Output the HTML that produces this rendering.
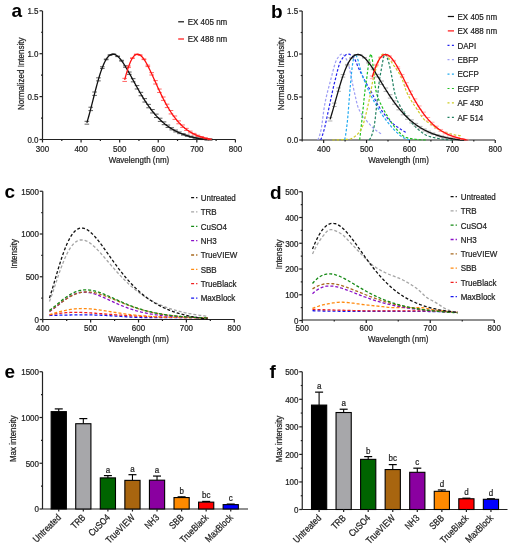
<!DOCTYPE html><html><head><meta charset="utf-8"><style>html,body{margin:0;padding:0;background:#fff;}svg{display:block;will-change:transform;}</style></head><body>
<svg width="513" height="550" viewBox="0 0 513 550" font-family='"Liberation Sans", sans-serif' fill="#222">
<style>.t{stroke:#222;stroke-width:0.2px;}</style>
<rect width="513" height="550" fill="#fff"/>
<line x1="42.5" y1="11" x2="42.5" y2="139.5" stroke="#222" stroke-width="1.2" />
<line x1="42.5" y1="139.5" x2="235.4" y2="139.5" stroke="#222" stroke-width="1.2" />
<line x1="39.5" y1="139.5" x2="42.5" y2="139.5" stroke="#222" stroke-width="1.2" />
<line x1="39.5" y1="96.6" x2="42.5" y2="96.6" stroke="#222" stroke-width="1.2" />
<line x1="39.5" y1="53.7" x2="42.5" y2="53.7" stroke="#222" stroke-width="1.2" />
<line x1="39.5" y1="10.8" x2="42.5" y2="10.8" stroke="#222" stroke-width="1.2" />
<line x1="41" y1="118.05" x2="42.5" y2="118.05" stroke="#222" stroke-width="1.2" />
<line x1="41" y1="75.15" x2="42.5" y2="75.15" stroke="#222" stroke-width="1.2" />
<line x1="41" y1="32.25" x2="42.5" y2="32.25" stroke="#222" stroke-width="1.2" />
<line x1="42.5" y1="139.5" x2="42.5" y2="142.5" stroke="#222" stroke-width="1.2" />
<line x1="81.08" y1="139.5" x2="81.08" y2="142.5" stroke="#222" stroke-width="1.2" />
<line x1="119.66" y1="139.5" x2="119.66" y2="142.5" stroke="#222" stroke-width="1.2" />
<line x1="158.24" y1="139.5" x2="158.24" y2="142.5" stroke="#222" stroke-width="1.2" />
<line x1="196.82" y1="139.5" x2="196.82" y2="142.5" stroke="#222" stroke-width="1.2" />
<line x1="235.4" y1="139.5" x2="235.4" y2="142.5" stroke="#222" stroke-width="1.2" />
<line x1="61.79" y1="139.5" x2="61.79" y2="141" stroke="#222" stroke-width="1.2" />
<line x1="100.37" y1="139.5" x2="100.37" y2="141" stroke="#222" stroke-width="1.2" />
<line x1="138.95" y1="139.5" x2="138.95" y2="141" stroke="#222" stroke-width="1.2" />
<line x1="177.53" y1="139.5" x2="177.53" y2="141" stroke="#222" stroke-width="1.2" />
<line x1="216.11" y1="139.5" x2="216.11" y2="141" stroke="#222" stroke-width="1.2" />
<text class="t" transform="translate(38.5,142.8) scale(1,1.2)" text-anchor="end" font-size="8" font-weight="normal" >0.0</text>
<text class="t" transform="translate(38.5,99.9) scale(1,1.2)" text-anchor="end" font-size="8" font-weight="normal" >0.5</text>
<text class="t" transform="translate(38.5,57) scale(1,1.2)" text-anchor="end" font-size="8" font-weight="normal" >1.0</text>
<text class="t" transform="translate(38.5,14.1) scale(1,1.2)" text-anchor="end" font-size="8" font-weight="normal" >1.5</text>
<text class="t" transform="translate(42.5,151.9) scale(1,1.2)" text-anchor="middle" font-size="8" font-weight="normal" >300</text>
<text class="t" transform="translate(81.08,151.9) scale(1,1.2)" text-anchor="middle" font-size="8" font-weight="normal" >400</text>
<text class="t" transform="translate(119.66,151.9) scale(1,1.2)" text-anchor="middle" font-size="8" font-weight="normal" >500</text>
<text class="t" transform="translate(158.24,151.9) scale(1,1.2)" text-anchor="middle" font-size="8" font-weight="normal" >600</text>
<text class="t" transform="translate(196.82,151.9) scale(1,1.2)" text-anchor="middle" font-size="8" font-weight="normal" >700</text>
<text class="t" transform="translate(235.4,151.9) scale(1,1.2)" text-anchor="middle" font-size="8" font-weight="normal" >800</text>
<text class="t" transform="translate(138.95,162.9) scale(1,1.2)" text-anchor="middle" font-size="8" font-weight="normal" >Wavelength (nm)</text>
<text class="t" x="0" y="0" text-anchor="middle" font-size="8" transform="translate(23.6,73.75) rotate(-90) scale(1,1.2)">Normalized Intensity</text>
<text transform="translate(11.5,16.9) scale(1,1.0)" text-anchor="start" font-size="19" font-weight="bold" fill="#000">a</text>
<path d="M84.57 121.32h4.6M84.57 124.16h4.6" stroke="#333" stroke-width="0.8" fill="none"/>
<path d="M88.42 107.21h4.6M88.42 110.61h4.6" stroke="#333" stroke-width="0.8" fill="none"/>
<path d="M92.28 92.01h4.6M92.28 95.41h4.6" stroke="#333" stroke-width="0.8" fill="none"/>
<path d="M96.14 77.83h4.6M96.14 80.88h4.6" stroke="#333" stroke-width="0.8" fill="none"/>
<path d="M100 66.77h4.6M100 68.43h4.6" stroke="#333" stroke-width="0.8" fill="none"/>
<path d="M103.86 59.08h4.6M103.86 59.76h4.6" stroke="#333" stroke-width="0.8" fill="none"/>
<path d="M107.72 54.82h4.6M107.72 55.32h4.6" stroke="#333" stroke-width="0.8" fill="none"/>
<path d="M111.57 54.01h4.6M111.57 54.51h4.6" stroke="#333" stroke-width="0.8" fill="none"/>
<path d="M115.43 56.12h4.6M115.43 56.62h4.6" stroke="#333" stroke-width="0.8" fill="none"/>
<path d="M119.29 60.28h4.6M119.29 61.11h4.6" stroke="#333" stroke-width="0.8" fill="none"/>
<path d="M123.15 65.75h4.6M123.15 67.27h4.6" stroke="#333" stroke-width="0.8" fill="none"/>
<path d="M127.01 72.04h4.6M127.01 74.36h4.6" stroke="#333" stroke-width="0.8" fill="none"/>
<path d="M130.86 78.67h4.6M130.86 81.83h4.6" stroke="#333" stroke-width="0.8" fill="none"/>
<path d="M134.72 85.58h4.6M134.72 88.98h4.6" stroke="#333" stroke-width="0.8" fill="none"/>
<path d="M138.58 92.34h4.6M138.58 95.74h4.6" stroke="#333" stroke-width="0.8" fill="none"/>
<path d="M142.44 98.64h4.6M142.44 102.04h4.6" stroke="#333" stroke-width="0.8" fill="none"/>
<path d="M146.29 104.39h4.6M146.29 107.79h4.6" stroke="#333" stroke-width="0.8" fill="none"/>
<path d="M150.15 109.56h4.6M150.15 112.96h4.6" stroke="#333" stroke-width="0.8" fill="none"/>
<path d="M154.01 114.12h4.6M154.01 117.52h4.6" stroke="#333" stroke-width="0.8" fill="none"/>
<path d="M157.87 118.22h4.6M157.87 121.41h4.6" stroke="#333" stroke-width="0.8" fill="none"/>
<path d="M161.73 121.9h4.6M161.73 124.67h4.6" stroke="#333" stroke-width="0.8" fill="none"/>
<path d="M165.58 125.06h4.6M165.58 127.48h4.6" stroke="#333" stroke-width="0.8" fill="none"/>
<path d="M169.44 127.76h4.6M169.44 129.88h4.6" stroke="#333" stroke-width="0.8" fill="none"/>
<path d="M173.3 130.06h4.6M173.3 131.92h4.6" stroke="#333" stroke-width="0.8" fill="none"/>
<path d="M177.16 132.01h4.6M177.16 133.65h4.6" stroke="#333" stroke-width="0.8" fill="none"/>
<path d="M181.02 133.65h4.6M181.02 135.11h4.6" stroke="#333" stroke-width="0.8" fill="none"/>
<path d="M184.87 135.04h4.6M184.87 136.34h4.6" stroke="#333" stroke-width="0.8" fill="none"/>
<path d="M188.73 136.2h4.6M188.73 137.38h4.6" stroke="#333" stroke-width="0.8" fill="none"/>
<path d="M192.59 137.18h4.6M192.59 138.24h4.6" stroke="#333" stroke-width="0.8" fill="none"/>
<path d="M196.45 138h4.6M196.45 138.97h4.6" stroke="#333" stroke-width="0.8" fill="none"/>
<path d="M200.31 138.68h4.6M200.31 139.57h4.6" stroke="#333" stroke-width="0.8" fill="none"/>
<path d="M204.16 139.07h4.6M204.16 139.93h4.6" stroke="#333" stroke-width="0.8" fill="none"/>
<path d="M208.02 139.07h4.6M208.02 139.93h4.6" stroke="#333" stroke-width="0.8" fill="none"/>
<path d="M86.87 122.74L87.64 120.18L88.41 117.51L89.18 114.74L89.95 111.86L90.72 108.91L91.5 105.91L92.27 102.86L93.04 99.81L93.81 96.74L94.58 93.71L95.35 90.7L96.13 87.74L96.9 84.87L97.67 82.06L98.44 79.35L99.21 76.75L99.98 74.26L100.76 71.91L101.53 69.68L102.3 67.6L103.07 65.66L103.84 63.87L104.61 62.24L105.39 60.75L106.16 59.42L106.93 58.25L107.7 57.22L108.47 56.37L109.24 55.63L110.02 55.07L110.79 54.63L111.56 54.31L112.33 54.26L113.1 54.26L113.87 54.26L114.64 54.42L115.42 54.79L116.19 55.21L116.96 55.75L117.73 56.37L118.5 57.08L119.27 57.88L120.05 58.74L120.82 59.69L121.59 60.69L122.36 61.76L123.13 62.88L123.9 64.04L124.68 65.26L125.45 66.51L126.22 67.79L126.99 69.11L127.76 70.45L128.53 71.82L129.31 73.2L130.08 74.59L130.85 76L131.62 77.41L132.39 78.83L133.16 80.25L133.93 81.67L134.71 83.08L135.48 84.49L136.25 85.89L137.02 87.28L137.79 88.66L138.56 90.03L139.34 91.38L140.11 92.72L140.88 94.04L141.65 95.34L142.42 96.62L143.19 97.88L143.97 99.12L144.74 100.34L145.51 101.54L146.28 102.71L147.05 103.86L147.82 104.99L148.59 106.09L149.37 107.17L150.14 108.23L150.91 109.26L151.68 110.27L152.45 111.26L153.22 112.22L154 113.15L154.77 114.07L155.54 114.96L156.31 115.82L157.08 116.67L157.85 117.49L158.63 118.29L159.4 119.06L160.17 119.82L160.94 120.55L161.71 121.27L162.48 121.96L163.26 122.63L164.03 123.28L164.8 123.92L165.57 124.53L166.34 125.13L167.11 125.71L167.88 126.27L168.66 126.81L169.43 127.34L170.2 127.85L170.97 128.34L171.74 128.82L172.51 129.28L173.29 129.73L174.06 130.16L174.83 130.58L175.6 130.99L176.37 131.38L177.14 131.76L177.92 132.13L178.69 132.49L179.46 132.83L180.23 133.16L181 133.48L181.77 133.79L182.55 134.09L183.32 134.38L184.09 134.66L184.86 134.93L185.63 135.2L186.4 135.45L187.17 135.69L187.95 135.93L188.72 136.15L189.49 136.37L190.26 136.59L191.03 136.79L191.8 136.99L192.58 137.18L193.35 137.36L194.12 137.54L194.89 137.71L195.66 137.88L196.43 138.04L197.21 138.19L197.98 138.34L198.75 138.48L199.52 138.62L200.29 138.75L201.06 138.88L201.84 139.01L202.61 139.13L203.38 139.25L204.15 139.37L204.92 139.43L205.69 139.48L206.47 139.5L207.24 139.5L208.01 139.5L208.78 139.5L209.55 139.5L210.32 139.5L211.09 139.5L211.87 139.5L212.25 139.5" stroke="#111" stroke-width="1.3" fill="none" stroke-linejoin="round"/>
<path d="M122.38 78.33h4.6M122.38 81.44h4.6" stroke="#ff4040" stroke-width="0.8" fill="none"/>
<path d="M126.23 66.02h4.6M126.23 67.57h4.6" stroke="#ff4040" stroke-width="0.8" fill="none"/>
<path d="M130.09 57.91h4.6M130.09 58.44h4.6" stroke="#ff4040" stroke-width="0.8" fill="none"/>
<path d="M133.95 54.18h4.6M133.95 54.68h4.6" stroke="#ff4040" stroke-width="0.8" fill="none"/>
<path d="M137.81 54.85h4.6M137.81 55.35h4.6" stroke="#ff4040" stroke-width="0.8" fill="none"/>
<path d="M141.67 58.94h4.6M141.67 59.6h4.6" stroke="#ff4040" stroke-width="0.8" fill="none"/>
<path d="M145.52 65.13h4.6M145.52 66.57h4.6" stroke="#ff4040" stroke-width="0.8" fill="none"/>
<path d="M149.38 72.62h4.6M149.38 75.01h4.6" stroke="#ff4040" stroke-width="0.8" fill="none"/>
<path d="M153.24 80.63h4.6M153.24 84.03h4.6" stroke="#ff4040" stroke-width="0.8" fill="none"/>
<path d="M157.1 89.06h4.6M157.1 92.46h4.6" stroke="#ff4040" stroke-width="0.8" fill="none"/>
<path d="M160.96 96.99h4.6M160.96 100.39h4.6" stroke="#ff4040" stroke-width="0.8" fill="none"/>
<path d="M164.81 104.19h4.6M164.81 107.59h4.6" stroke="#ff4040" stroke-width="0.8" fill="none"/>
<path d="M168.67 110.53h4.6M168.67 113.93h4.6" stroke="#ff4040" stroke-width="0.8" fill="none"/>
<path d="M172.53 116h4.6M172.53 119.4h4.6" stroke="#ff4040" stroke-width="0.8" fill="none"/>
<path d="M176.39 120.88h4.6M176.39 123.77h4.6" stroke="#ff4040" stroke-width="0.8" fill="none"/>
<path d="M180.25 124.98h4.6M180.25 127.41h4.6" stroke="#ff4040" stroke-width="0.8" fill="none"/>
<path d="M184.1 128.36h4.6M184.1 130.42h4.6" stroke="#ff4040" stroke-width="0.8" fill="none"/>
<path d="M187.96 131.13h4.6M187.96 132.87h4.6" stroke="#ff4040" stroke-width="0.8" fill="none"/>
<path d="M191.82 133.38h4.6M191.82 134.87h4.6" stroke="#ff4040" stroke-width="0.8" fill="none"/>
<path d="M195.68 135.19h4.6M195.68 136.47h4.6" stroke="#ff4040" stroke-width="0.8" fill="none"/>
<path d="M199.54 136.64h4.6M199.54 137.76h4.6" stroke="#ff4040" stroke-width="0.8" fill="none"/>
<path d="M203.39 137.8h4.6M203.39 138.79h4.6" stroke="#ff4040" stroke-width="0.8" fill="none"/>
<path d="M207.25 138.72h4.6M207.25 139.61h4.6" stroke="#ff4040" stroke-width="0.8" fill="none"/>
<path d="M124.68 79.89L125.45 76.95L126.22 74.17L126.99 71.56L127.76 69.08L128.53 66.8L129.31 64.69L130.08 62.76L130.85 61.05L131.62 59.5L132.39 58.18L133.16 57.04L133.93 56.08L134.71 55.37L135.48 54.76L136.25 54.43L137.02 54.33L137.79 54.27L138.56 54.31L139.34 54.65L140.11 55.1L140.88 55.68L141.65 56.42L142.42 57.25L143.19 58.21L143.97 59.27L144.74 60.43L145.51 61.68L146.28 63L147.05 64.4L147.82 65.85L148.59 67.36L149.37 68.93L150.14 70.52L150.91 72.16L151.68 73.82L152.45 75.5L153.22 77.2L154 78.9L154.77 80.62L155.54 82.33L156.31 84.04L157.08 85.74L157.85 87.43L158.63 89.1L159.4 90.76L160.17 92.4L160.94 94.01L161.71 95.6L162.48 97.16L163.26 98.69L164.03 100.2L164.8 101.67L165.57 103.11L166.34 104.52L167.11 105.89L167.88 107.23L168.66 108.53L169.43 109.8L170.2 111.03L170.97 112.23L171.74 113.39L172.51 114.52L173.29 115.61L174.06 116.67L174.83 117.7L175.6 118.69L176.37 119.65L177.14 120.57L177.92 121.47L178.69 122.33L179.46 123.16L180.23 123.96L181 124.73L181.77 125.48L182.55 126.2L183.32 126.89L184.09 127.55L184.86 128.19L185.63 128.8L186.4 129.39L187.17 129.96L187.95 130.5L188.72 131.02L189.49 131.52L190.26 132L191.03 132.46L191.8 132.9L192.58 133.33L193.35 133.73L194.12 134.12L194.89 134.49L195.66 134.85L196.43 135.19L197.21 135.52L197.98 135.83L198.75 136.13L199.52 136.41L200.29 136.69L201.06 136.95L201.84 137.2L202.61 137.44L203.38 137.67L204.15 137.88L204.92 138.09L205.69 138.29L206.47 138.48L207.24 138.67L208.01 138.84L208.78 139L209.55 139.16L210.32 139.31" stroke="#ff1010" stroke-width="1.3" fill="none" stroke-linejoin="round"/>
<line x1="178.2" y1="21.8" x2="184" y2="21.8" stroke="#111" stroke-width="1.2" />
<text class="t" transform="translate(187.7,25.2) scale(1,1.2)" text-anchor="start" font-size="8" font-weight="normal" >EX 405 nm</text>
<line x1="178.2" y1="39" x2="184" y2="39" stroke="#ff1010" stroke-width="1.2" />
<text class="t" transform="translate(187.7,42.4) scale(1,1.2)" text-anchor="start" font-size="8" font-weight="normal" >EX 488 nm</text>
<line x1="302.2" y1="11" x2="302.2" y2="140" stroke="#222" stroke-width="1.2" />
<line x1="302.2" y1="140" x2="495" y2="140" stroke="#222" stroke-width="1.2" />
<line x1="299.2" y1="140" x2="302.2" y2="140" stroke="#222" stroke-width="1.2" />
<line x1="299.2" y1="97" x2="302.2" y2="97" stroke="#222" stroke-width="1.2" />
<line x1="299.2" y1="54" x2="302.2" y2="54" stroke="#222" stroke-width="1.2" />
<line x1="299.2" y1="11" x2="302.2" y2="11" stroke="#222" stroke-width="1.2" />
<line x1="300.7" y1="118.5" x2="302.2" y2="118.5" stroke="#222" stroke-width="1.2" />
<line x1="300.7" y1="75.5" x2="302.2" y2="75.5" stroke="#222" stroke-width="1.2" />
<line x1="300.7" y1="32.5" x2="302.2" y2="32.5" stroke="#222" stroke-width="1.2" />
<line x1="323.65" y1="140" x2="323.65" y2="143" stroke="#222" stroke-width="1.2" />
<line x1="366.55" y1="140" x2="366.55" y2="143" stroke="#222" stroke-width="1.2" />
<line x1="409.45" y1="140" x2="409.45" y2="143" stroke="#222" stroke-width="1.2" />
<line x1="452.35" y1="140" x2="452.35" y2="143" stroke="#222" stroke-width="1.2" />
<line x1="495.25" y1="140" x2="495.25" y2="143" stroke="#222" stroke-width="1.2" />
<line x1="302.2" y1="140" x2="302.2" y2="141.5" stroke="#222" stroke-width="1.2" />
<line x1="345.1" y1="140" x2="345.1" y2="141.5" stroke="#222" stroke-width="1.2" />
<line x1="388" y1="140" x2="388" y2="141.5" stroke="#222" stroke-width="1.2" />
<line x1="430.9" y1="140" x2="430.9" y2="141.5" stroke="#222" stroke-width="1.2" />
<line x1="473.8" y1="140" x2="473.8" y2="141.5" stroke="#222" stroke-width="1.2" />
<text class="t" transform="translate(298.2,143.3) scale(1,1.2)" text-anchor="end" font-size="8" font-weight="normal" >0.0</text>
<text class="t" transform="translate(298.2,100.3) scale(1,1.2)" text-anchor="end" font-size="8" font-weight="normal" >0.5</text>
<text class="t" transform="translate(298.2,57.3) scale(1,1.2)" text-anchor="end" font-size="8" font-weight="normal" >1.0</text>
<text class="t" transform="translate(298.2,14.3) scale(1,1.2)" text-anchor="end" font-size="8" font-weight="normal" >1.5</text>
<text class="t" transform="translate(323.65,152.4) scale(1,1.2)" text-anchor="middle" font-size="8" font-weight="normal" >400</text>
<text class="t" transform="translate(366.55,152.4) scale(1,1.2)" text-anchor="middle" font-size="8" font-weight="normal" >500</text>
<text class="t" transform="translate(409.45,152.4) scale(1,1.2)" text-anchor="middle" font-size="8" font-weight="normal" >600</text>
<text class="t" transform="translate(452.35,152.4) scale(1,1.2)" text-anchor="middle" font-size="8" font-weight="normal" >700</text>
<text class="t" transform="translate(495.25,152.4) scale(1,1.2)" text-anchor="middle" font-size="8" font-weight="normal" >800</text>
<text class="t" transform="translate(398.6,163.4) scale(1,1.2)" text-anchor="middle" font-size="8" font-weight="normal" >Wavelength (nm)</text>
<text class="t" x="0" y="0" text-anchor="middle" font-size="8" transform="translate(283.5,74) rotate(-90) scale(1,1.2)">Normalized Intensity</text>
<text transform="translate(271,17.9) scale(1,1.0)" text-anchor="start" font-size="19" font-weight="bold" fill="#000">b</text>
<path d="M317.64 140L318.5 138.58L319.36 136.22L320.22 133.16L321.08 129.68L321.93 124.75L322.79 118.13L323.65 111.26L324.51 105.6L325.37 101.24L326.22 97.28L327.08 93.63L327.94 90.22L328.8 86.98L329.66 83.82L330.51 80.66L331.37 77.38L332.23 73.97L333.09 70.59L333.95 67.36L334.8 64.41L335.66 61.88L336.52 59.9L337.38 58.51L338.24 57.26L339.09 56.12L339.95 55.15L340.81 54.44L341.67 54.05L342.53 54.07L343.38 54.59L344.24 55.55L345.1 56.83L345.96 58.36L346.82 60.02L347.67 61.87L348.53 64.54L349.39 67.96L350.25 71.94L351.11 76.25L351.96 80.69L352.82 85.05L353.68 89.12L354.54 92.82L355.4 96.69L356.25 100.55L357.11 104.11L357.97 107.04L358.83 109.16L359.69 110.91L360.54 112.45L361.4 113.81L362.26 115.05L363.12 116.21L363.98 117.35L364.83 118.5L365.69 119.65L366.55 120.73L367.41 121.76L368.27 122.75L369.12 123.71L369.98 124.65L370.84 125.59L371.7 126.49L372.56 127.36L373.41 128.19L374.27 128.97L375.13 129.68L375.99 130.35L376.85 130.99L377.7 131.61L378.56 132.2L379.42 132.76L380.28 133.28L381.14 133.77L381.99 134.21L382.42 134.41" stroke="#9d9df5" stroke-width="1.2" fill="none" stroke-dasharray="2.6 1.8"/>
<path d="M320.65 140L321.5 137.89L322.36 135.5L323.22 132.83L324.08 129.87L324.94 126.45L325.79 122.67L326.65 118.68L327.51 114.6L328.37 110.56L329.23 106.66L330.08 102.65L330.94 98.57L331.8 94.5L332.66 90.54L333.52 86.75L334.38 83.24L335.23 79.81L336.09 76.3L336.95 72.81L337.81 69.48L338.66 66.41L339.52 63.74L340.38 61.57L341.24 60.02L342.1 58.85L342.95 57.73L343.81 56.71L344.67 55.81L345.53 55.06L346.39 54.49L347.25 54.13L348.1 54L348.96 54.11L349.82 54.42L350.68 54.9L351.53 55.51L352.39 56.23L353.25 57.02L354.11 57.95L354.97 59.45L355.82 61.41L356.68 63.59L357.54 65.78L358.4 67.76L359.26 69.55L360.12 71.32L360.97 73.07L361.83 74.79L362.69 76.49L363.55 78.16L364.4 79.8L365.26 81.41L366.12 82.98L366.98 84.53L367.84 86.05L368.69 87.54L369.55 88.97L370.41 90.37L371.27 91.84L372.13 93.46L372.99 95.21L373.84 97.02L374.7 98.85L375.56 100.64L376.42 102.33L377.27 103.88L378.13 105.3L378.99 106.66L379.85 107.97L380.71 109.22L381.56 110.44L382.42 111.62L383.28 112.77L384.14 113.91L385 115.03L385.86 116.14L386.71 117.23L387.57 118.27L388.43 119.27L389.29 120.21L390.14 121.08L391 121.89L391.86 122.67L392.72 123.42L393.58 124.14L394.44 124.82L395.29 125.49L396.15 126.13L397.01 126.76L397.87 127.36L398.72 127.96L399.58 128.54L400.44 129.11L401.3 129.67L402.16 130.21L403.01 130.74L403.87 131.25L404.73 131.74L405.59 132.22L406.45 132.68L407.31 133.12" stroke="#2222ee" stroke-width="1.2" fill="none" stroke-dasharray="2.6 1.8"/>
<path d="M344.67 140L345.53 135.56L346.39 129.71L347.25 122.8L348.1 113.74L348.96 102.62L349.82 91.54L350.68 82.1L351.53 73.05L352.39 65.41L353.25 60.18L354.11 55.89L354.97 54L355.82 54.74L356.68 56.56L357.54 58.87L358.4 61.3L359.26 64.53L360.12 68.07L360.97 71.2L361.83 73.79L362.69 76.2L363.55 78.48L364.4 80.65L365.26 82.74L366.12 84.8L366.98 86.84L367.84 88.82L368.69 90.75L369.55 92.61L370.41 94.41L371.27 96.13L372.13 97.8L372.99 99.41L373.84 100.98L374.7 102.5L375.56 104L376.42 105.47L377.27 106.93L378.13 108.36L378.99 109.76L379.85 111.14L380.71 112.48L381.56 113.79L382.42 115.06L383.28 116.3L384.14 117.51L385 118.69L385.86 119.84L386.71 120.96L387.57 122.06L388.43 123.13L389.29 124.18L390.14 125.22L391 126.26L391.86 127.27L392.72 128.26L393.58 129.22L394.44 130.15L395.29 131.03L396.15 131.86L397.01 132.65L397.87 133.43L398.72 134.2L399.58 134.95L400.44 135.66L401.3 136.32L402.16 136.91L403.01 137.43L403.87 137.85L404.73 138.21L405.59 138.55L406.45 138.86L407.31 139.13L408.16 139.35L409.02 139.51L409.45 139.57" stroke="#22aaf0" stroke-width="1.2" fill="none" stroke-dasharray="2.6 1.8"/>
<path d="M359.69 140L360.54 132.45L361.4 124.71L362.26 116.78L363.12 108.32L363.98 99.67L364.83 91.84L365.69 85.37L366.55 79.44L367.41 72.95L368.27 65.71L369.12 60.02L369.98 55.99L370.84 54L371.7 56.16L372.56 60.88L373.41 69.92L374.27 78.53L375.13 85.79L375.99 90.98L376.85 94.26L377.7 96.96L378.56 99.22L379.42 101.17L380.28 102.95L381.14 104.7L381.99 106.5L382.85 108.2L383.71 109.8L384.57 111.32L385.43 112.77L386.28 114.2L387.14 115.62L388 117.04L388.86 118.45L389.72 119.84L390.57 121.2L391.43 122.52L392.29 123.81L393.15 125.04L394.01 126.21L394.86 127.31L395.72 128.34L396.58 129.29L397.44 130.24L398.3 131.19L399.15 132.13L400.01 133.03L400.87 133.89L401.73 134.7L402.59 135.43L403.44 136.09L404.3 136.65L405.16 137.09L406.02 137.42L406.88 137.67L407.73 137.91L408.59 138.12L409.45 138.32L410.31 138.51L411.17 138.68L412.02 138.84L412.88 138.98L413.74 139.11L414.6 139.22L415.46 139.33L416.31 139.42L417.17 139.5L418.03 139.57L418.89 139.63L419.75 139.7L420.6 139.76L421.46 139.82L422.32 139.87L423.18 139.91L424.04 139.95L424.89 139.98L425.75 139.99L426.61 140" stroke="#22c022" stroke-width="1.2" fill="none" stroke-dasharray="2.6 1.8"/>
<path d="M332.23 140L333.09 140L333.95 139.99L334.8 139.98L335.66 139.97L336.52 139.95L337.38 139.93L338.24 139.9L339.09 139.87L339.95 139.83L340.81 139.79L341.67 139.75L342.53 139.7L343.38 139.65L344.24 139.59L345.1 139.53L345.96 139.46L346.82 139.39L347.67 139.31L348.53 139.23L349.39 139.14L350.25 138.98L351.11 138.7L351.96 138.3L352.82 137.82L353.68 137.27L354.54 136.67L355.4 136.03L356.25 135.36L357.11 134.6L357.97 133.71L358.83 132.7L359.69 131.54L360.54 130.23L361.4 128.75L362.26 127.1L363.12 124.8L363.98 121.76L364.83 118.5L365.69 115.21L366.55 111.72L367.41 108.06L368.27 104.24L369.12 100.26L369.98 96.14L370.84 91.52L371.7 86.49L372.56 81.8L373.41 78.02L374.27 74.78L375.13 71.85L375.99 69.1L376.85 66.37L377.7 63.43L378.56 60.55L379.42 58.05L380.28 56.25L381.14 55.34L381.99 54.66L382.85 54.18L383.71 54L384.57 54.22L385.43 54.8L386.28 55.61L387.14 56.53L388 57.44L388.86 58.39L389.72 59.48L390.57 60.68L391.43 61.95L392.29 63.25L393.15 64.55L394.01 65.8L394.86 67.02L395.72 68.23L396.58 69.44L397.44 70.68L398.3 71.97L399.15 73.34L400.01 74.8L400.87 76.38L401.73 78.14L402.59 80.29L403.44 82.74L404.3 85.34L405.16 87.95L406.02 90.42L406.88 92.61L407.73 94.43L408.59 96.1L409.45 97.66L410.31 99.14L411.17 100.55L412.02 101.9L412.88 103.2L413.74 104.47L414.6 105.72L415.46 106.96L416.31 108.21L417.17 109.47L418.03 110.77L418.89 112.12L419.75 113.46L420.6 114.79L421.46 116.08L422.32 117.29L423.18 118.4L424.04 119.39L424.89 120.22L425.75 120.9L426.61 121.48L427.47 122.01L428.33 122.53L429.18 123.08L430.04 123.65L430.9 124.24L431.76 124.83L432.62 125.44L433.47 126.04L434.33 126.65L435.19 127.25L436.05 127.83L436.91 128.41L437.76 128.96L438.62 129.49L439.48 129.99L440.34 130.46L441.2 130.89L442.05 131.28L442.91 131.62L443.77 131.92L444.63 132.18L445.49 132.45L446.34 132.71L447.2 132.97L448.06 133.22L448.92 133.47L449.78 133.71L450.63 133.94L451.49 134.16L452.35 134.38L453.21 134.58L454.07 134.76L454.92 134.94L455.78 135.1L456.64 135.24L457.5 135.36L458.36 135.47L459.21 135.56L460.07 135.63L460.93 135.67L461.79 135.7L462.22 135.7" stroke="#cccc22" stroke-width="1.2" fill="none" stroke-dasharray="2.6 1.8"/>
<path d="M369.12 140L369.98 138.94L370.84 137.42L371.7 135.47L372.56 132.96L373.41 129.8L374.27 125.69L375.13 119.48L375.99 111.82L376.85 103.61L377.7 95.24L378.56 86.68L379.42 80.39L380.28 75.02L381.14 70.34L381.99 65.61L382.85 60.8L383.71 56.76L384.57 54.34L385.43 54.19L386.28 55.52L387.14 57.64L388 60.02L388.86 62.84L389.72 66.43L390.57 70.47L391.43 74.64L392.29 79.37L393.15 84.72L394.01 89.75L394.86 93.56L395.72 96.25L396.58 98.59L397.44 100.64L398.3 102.48L399.15 104.16L400.01 105.75L400.87 107.32L401.73 108.85L402.59 110.28L403.44 111.64L404.3 112.93L405.16 114.16L406.02 115.34L406.88 116.49L407.73 117.63L408.59 118.75L409.45 119.86L410.31 120.95L411.17 122.01L412.02 123.05L412.88 124.06L413.74 125.03L414.6 125.97L415.46 126.88L416.31 127.74L417.17 128.55L418.03 129.32L418.89 130.04L419.75 130.74L420.6 131.44L421.46 132.11L422.32 132.76L423.18 133.37L424.04 133.94L424.89 134.47L425.75 134.94L426.61 135.35L427.47 135.7L428.33 136L429.18 136.29L430.04 136.56L430.9 136.82L431.76 137.06L432.62 137.28L433.47 137.49L434.33 137.69L435.19 137.88L436.05 138.05L436.91 138.22L437.76 138.37L438.62 138.51L439.48 138.65L440.34 138.77L441.2 138.89L442.05 139.01L442.91 139.13L443.77 139.24L444.63 139.35L445.49 139.45L446.34 139.55L447.2 139.64L448.06 139.72L448.92 139.8L449.78 139.86L450.63 139.92L451.49 139.96L452.35 140" stroke="#1f8060" stroke-width="1.2" fill="none" stroke-dasharray="2.6 1.8"/>
<path d="M327.78 117.67h4.6M327.78 120.97h4.6" stroke="#999" stroke-width="0.8" fill="none"/>
<path d="M332.07 103.11h4.6M332.07 106.51h4.6" stroke="#999" stroke-width="0.8" fill="none"/>
<path d="M336.36 87.9h4.6M336.36 91.3h4.6" stroke="#999" stroke-width="0.8" fill="none"/>
<path d="M340.65 74.55h4.6M340.65 77.14h4.6" stroke="#999" stroke-width="0.8" fill="none"/>
<path d="M344.94 64.42h4.6M344.94 65.73h4.6" stroke="#999" stroke-width="0.8" fill="none"/>
<path d="M349.23 57.78h4.6M349.23 58.28h4.6" stroke="#999" stroke-width="0.8" fill="none"/>
<path d="M353.52 54.53h4.6M353.52 55.03h4.6" stroke="#999" stroke-width="0.8" fill="none"/>
<path d="M357.81 54.67h4.6M357.81 55.17h4.6" stroke="#999" stroke-width="0.8" fill="none"/>
<path d="M362.1 57.53h4.6M362.1 58.03h4.6" stroke="#999" stroke-width="0.8" fill="none"/>
<path d="M366.39 62.12h4.6M366.39 63.14h4.6" stroke="#999" stroke-width="0.8" fill="none"/>
<path d="M370.69 67.91h4.6M370.69 69.66h4.6" stroke="#999" stroke-width="0.8" fill="none"/>
<path d="M374.97 74.36h4.6M374.97 76.93h4.6" stroke="#999" stroke-width="0.8" fill="none"/>
<path d="M379.26 81.04h4.6M379.26 84.44h4.6" stroke="#999" stroke-width="0.8" fill="none"/>
<path d="M383.56 88.03h4.6M383.56 91.43h4.6" stroke="#999" stroke-width="0.8" fill="none"/>
<path d="M387.84 94.68h4.6M387.84 98.08h4.6" stroke="#999" stroke-width="0.8" fill="none"/>
<path d="M392.13 100.84h4.6M392.13 104.24h4.6" stroke="#999" stroke-width="0.8" fill="none"/>
<path d="M396.42 106.43h4.6M396.42 109.83h4.6" stroke="#999" stroke-width="0.8" fill="none"/>
<path d="M400.71 111.42h4.6M400.71 114.82h4.6" stroke="#999" stroke-width="0.8" fill="none"/>
<path d="M405 115.83h4.6M405 119.23h4.6" stroke="#999" stroke-width="0.8" fill="none"/>
<path d="M409.29 119.84h4.6M409.29 122.9h4.6" stroke="#999" stroke-width="0.8" fill="none"/>
<path d="M413.58 123.36h4.6M413.58 126.02h4.6" stroke="#999" stroke-width="0.8" fill="none"/>
<path d="M417.87 126.38h4.6M417.87 128.71h4.6" stroke="#999" stroke-width="0.8" fill="none"/>
<path d="M422.16 128.97h4.6M422.16 131h4.6" stroke="#999" stroke-width="0.8" fill="none"/>
<path d="M426.45 131.16h4.6M426.45 132.95h4.6" stroke="#999" stroke-width="0.8" fill="none"/>
<path d="M430.74 133.02h4.6M430.74 134.6h4.6" stroke="#999" stroke-width="0.8" fill="none"/>
<path d="M435.03 134.58h4.6M435.03 135.99h4.6" stroke="#999" stroke-width="0.8" fill="none"/>
<path d="M439.32 135.9h4.6M439.32 137.16h4.6" stroke="#999" stroke-width="0.8" fill="none"/>
<path d="M443.61 137.01h4.6M443.61 138.15h4.6" stroke="#999" stroke-width="0.8" fill="none"/>
<path d="M447.9 137.94h4.6M447.9 138.97h4.6" stroke="#999" stroke-width="0.8" fill="none"/>
<path d="M452.19 138.71h4.6M452.19 139.66h4.6" stroke="#999" stroke-width="0.8" fill="none"/>
<path d="M456.48 139.36h4.6M456.48 140.23h4.6" stroke="#999" stroke-width="0.8" fill="none"/>
<path d="M460.77 139.57h4.6M460.77 140.43h4.6" stroke="#999" stroke-width="0.8" fill="none"/>
<path d="M465.06 139.57h4.6M465.06 140.43h4.6" stroke="#999" stroke-width="0.8" fill="none"/>
<path d="M330.08 119.32L330.94 116.57L331.8 113.74L332.66 110.83L333.52 107.84L334.38 104.81L335.23 101.75L336.09 98.67L336.95 95.62L337.81 92.59L338.66 89.6L339.52 86.67L340.38 83.82L341.24 81.06L342.1 78.39L342.95 75.84L343.81 73.42L344.67 71.11L345.53 68.96L346.39 66.94L347.25 65.07L348.1 63.36L348.96 61.79L349.82 60.39L350.68 59.12L351.53 58.03L352.39 57.09L353.25 56.28L354.11 55.65L354.97 55.12L355.82 54.78L356.68 54.6L357.54 54.48L358.4 54.49L359.26 54.67L360.12 54.92L360.97 55.28L361.83 55.78L362.69 56.35L363.55 57.02L364.4 57.78L365.26 58.61L366.12 59.52L366.98 60.49L367.84 61.54L368.69 62.63L369.55 63.78L370.41 64.97L371.27 66.21L372.13 67.48L372.99 68.78L373.84 70.12L374.7 71.47L375.56 72.85L376.42 74.24L377.27 75.64L378.13 77.06L378.99 78.48L379.85 79.9L380.71 81.32L381.56 82.74L382.42 84.16L383.28 85.57L384.14 86.97L385 88.36L385.86 89.73L386.71 91.1L387.57 92.44L388.43 93.77L389.29 95.09L390.14 96.38L391 97.66L391.86 98.91L392.72 100.14L393.58 101.35L394.44 102.54L395.29 103.71L396.15 104.85L397.01 105.97L397.87 107.06L398.72 108.13L399.58 109.18L400.44 110.2L401.3 111.2L402.16 112.17L403.01 113.12L403.87 114.05L404.73 114.96L405.59 115.84L406.45 116.69L407.31 117.53L408.16 118.34L409.02 119.13L409.88 119.9L410.74 120.64L411.59 121.37L412.45 122.07L413.31 122.76L414.17 123.42L415.03 124.07L415.88 124.69L416.74 125.3L417.6 125.89L418.46 126.46L419.32 127.01L420.17 127.55L421.03 128.07L421.89 128.57L422.75 129.06L423.61 129.53L424.46 129.98L425.32 130.43L426.18 130.85L427.04 131.27L427.9 131.67L428.75 132.06L429.61 132.43L430.47 132.79L431.33 133.14L432.19 133.48L433.04 133.81L433.9 134.13L434.76 134.43L435.62 134.73L436.48 135.01L437.33 135.29L438.19 135.56L439.05 135.81L439.91 136.06L440.77 136.3L441.62 136.53L442.48 136.76L443.34 136.97L444.2 137.18L445.06 137.38L445.91 137.58L446.77 137.77L447.63 137.95L448.49 138.12L449.35 138.29L450.2 138.45L451.06 138.61L451.92 138.76L452.78 138.91L453.64 139.05L454.5 139.18L455.35 139.32L456.21 139.44L457.07 139.57L457.93 139.69L458.78 139.8L459.64 139.9L460.5 139.99L461.36 140L462.22 140L463.07 140L463.93 140L464.79 140L465.65 140L466.51 140L467.37 140L468.22 140" stroke="#111" stroke-width="1.3" fill="none" stroke-linejoin="round"/>
<path d="M369.83 75.94h4.6M369.83 78.7h4.6" stroke="#ff9090" stroke-width="0.8" fill="none"/>
<path d="M374.12 64.36h4.6M374.12 65.67h4.6" stroke="#ff9090" stroke-width="0.8" fill="none"/>
<path d="M378.41 57.1h4.6M378.41 57.6h4.6" stroke="#ff9090" stroke-width="0.8" fill="none"/>
<path d="M382.7 54.29h4.6M382.7 54.79h4.6" stroke="#ff9090" stroke-width="0.8" fill="none"/>
<path d="M386.99 55.75h4.6M386.99 56.25h4.6" stroke="#ff9090" stroke-width="0.8" fill="none"/>
<path d="M391.28 60.35h4.6M391.28 61.15h4.6" stroke="#ff9090" stroke-width="0.8" fill="none"/>
<path d="M395.57 66.88h4.6M395.57 68.51h4.6" stroke="#ff9090" stroke-width="0.8" fill="none"/>
<path d="M399.86 74.55h4.6M399.86 77.15h4.6" stroke="#ff9090" stroke-width="0.8" fill="none"/>
<path d="M404.15 82.71h4.6M404.15 86.11h4.6" stroke="#ff9090" stroke-width="0.8" fill="none"/>
<path d="M408.44 91.09h4.6M408.44 94.49h4.6" stroke="#ff9090" stroke-width="0.8" fill="none"/>
<path d="M412.73 98.91h4.6M412.73 102.31h4.6" stroke="#ff9090" stroke-width="0.8" fill="none"/>
<path d="M417.02 105.95h4.6M417.02 109.35h4.6" stroke="#ff9090" stroke-width="0.8" fill="none"/>
<path d="M421.31 112.13h4.6M421.31 115.53h4.6" stroke="#ff9090" stroke-width="0.8" fill="none"/>
<path d="M425.6 117.48h4.6M425.6 120.8h4.6" stroke="#ff9090" stroke-width="0.8" fill="none"/>
<path d="M429.89 122.23h4.6M429.89 125.02h4.6" stroke="#ff9090" stroke-width="0.8" fill="none"/>
<path d="M434.18 126.18h4.6M434.18 128.53h4.6" stroke="#ff9090" stroke-width="0.8" fill="none"/>
<path d="M438.47 129.44h4.6M438.47 131.43h4.6" stroke="#ff9090" stroke-width="0.8" fill="none"/>
<path d="M442.76 132.1h4.6M442.76 133.79h4.6" stroke="#ff9090" stroke-width="0.8" fill="none"/>
<path d="M447.05 134.26h4.6M447.05 135.7h4.6" stroke="#ff9090" stroke-width="0.8" fill="none"/>
<path d="M451.34 135.99h4.6M451.34 137.25h4.6" stroke="#ff9090" stroke-width="0.8" fill="none"/>
<path d="M455.63 137.39h4.6M455.63 138.48h4.6" stroke="#ff9090" stroke-width="0.8" fill="none"/>
<path d="M459.92 138.5h4.6M459.92 139.47h4.6" stroke="#ff9090" stroke-width="0.8" fill="none"/>
<path d="M464.21 139.38h4.6M464.21 140.25h4.6" stroke="#ff9090" stroke-width="0.8" fill="none"/>
<path d="M372.13 77.32L372.99 74.52L373.84 71.88L374.7 69.43L375.56 67.12L376.42 65.01L377.27 63.09L378.13 61.35L378.99 59.83L379.85 58.48L380.71 57.35L381.56 56.41L382.42 55.64L383.28 55.12L384.14 54.71L385 54.54L385.86 54.58L386.71 54.71L387.57 54.92L388.43 55.39L389.29 56L390.14 56.71L391 57.57L391.86 58.51L392.72 59.59L393.58 60.75L394.44 61.99L395.29 63.32L396.15 64.72L397.01 66.18L397.87 67.7L398.72 69.26L399.58 70.86L400.44 72.5L401.3 74.16L402.16 75.85L403.01 77.55L403.87 79.26L404.73 80.98L405.59 82.69L406.45 84.41L407.31 86.11L408.16 87.81L409.02 89.48L409.88 91.15L410.74 92.79L411.59 94.4L412.45 96L413.31 97.56L414.17 99.1L415.03 100.61L415.88 102.08L416.74 103.52L417.6 104.93L418.46 106.31L419.32 107.65L420.17 108.96L421.03 110.23L421.89 111.46L422.75 112.67L423.61 113.83L424.46 114.96L425.32 116.06L426.18 117.12L427.04 118.15L427.9 119.14L428.75 120.1L429.61 121.03L430.47 121.92L431.33 122.79L432.19 123.62L433.04 124.43L433.9 125.2L434.76 125.95L435.62 126.67L436.48 127.36L437.33 128.02L438.19 128.66L439.05 129.28L439.91 129.87L440.77 130.43L441.62 130.98L442.48 131.5L443.34 132L444.2 132.48L445.06 132.95L445.91 133.39L446.77 133.81L447.63 134.22L448.49 134.61L449.35 134.98L450.2 135.34L451.06 135.68L451.92 136.01L452.78 136.32L453.64 136.62L454.5 136.91L455.35 137.18L456.21 137.44L457.07 137.69L457.93 137.93L458.78 138.16L459.64 138.38L460.5 138.59L461.36 138.79L462.22 138.98L463.07 139.16L463.93 139.34L464.79 139.5L465.65 139.66L466.51 139.81" stroke="#ff1010" stroke-width="1.3" fill="none" stroke-linejoin="round"/>
<line x1="447.8" y1="16.5" x2="454" y2="16.5" stroke="#111" stroke-width="1.2" />
<text class="t" transform="translate(457.5,19.8) scale(1,1.2)" text-anchor="start" font-size="8" font-weight="normal" >EX 405 nm</text>
<line x1="447.8" y1="30.9" x2="454" y2="30.9" stroke="#ff1010" stroke-width="1.2" />
<text class="t" transform="translate(457.5,34.2) scale(1,1.2)" text-anchor="start" font-size="8" font-weight="normal" >EX 488 nm</text>
<line x1="447.5" y1="45.3" x2="454" y2="45.3" stroke="#2222ee" stroke-width="1.2" stroke-dasharray="2 2.4"/>
<text class="t" transform="translate(457.5,48.6) scale(1,1.2)" text-anchor="start" font-size="8" font-weight="normal" >DAPI</text>
<line x1="447.5" y1="59.7" x2="454" y2="59.7" stroke="#9d9df5" stroke-width="1.2" stroke-dasharray="2 2.4"/>
<text class="t" transform="translate(457.5,63) scale(1,1.2)" text-anchor="start" font-size="8" font-weight="normal" >EBFP</text>
<line x1="447.5" y1="74.1" x2="454" y2="74.1" stroke="#22aaf0" stroke-width="1.2" stroke-dasharray="2 2.4"/>
<text class="t" transform="translate(457.5,77.4) scale(1,1.2)" text-anchor="start" font-size="8" font-weight="normal" >ECFP</text>
<line x1="447.5" y1="88.5" x2="454" y2="88.5" stroke="#22c022" stroke-width="1.2" stroke-dasharray="2 2.4"/>
<text class="t" transform="translate(457.5,91.8) scale(1,1.2)" text-anchor="start" font-size="8" font-weight="normal" >EGFP</text>
<line x1="447.5" y1="102.9" x2="454" y2="102.9" stroke="#cccc22" stroke-width="1.2" stroke-dasharray="2 2.4"/>
<text class="t" transform="translate(457.5,106.2) scale(1,1.2)" text-anchor="start" font-size="8" font-weight="normal" >AF 430</text>
<line x1="447.5" y1="117.3" x2="454" y2="117.3" stroke="#1f8060" stroke-width="1.2" stroke-dasharray="2 2.4"/>
<text class="t" transform="translate(457.5,120.6) scale(1,1.2)" text-anchor="start" font-size="8" font-weight="normal" >AF 514</text>
<line x1="42.75" y1="191.25" x2="42.75" y2="319.5" stroke="#222" stroke-width="1.2" />
<line x1="42.75" y1="319.5" x2="234.5" y2="319.5" stroke="#222" stroke-width="1.2" />
<line x1="39.75" y1="319.5" x2="42.75" y2="319.5" stroke="#222" stroke-width="1.2" />
<line x1="39.75" y1="276.75" x2="42.75" y2="276.75" stroke="#222" stroke-width="1.2" />
<line x1="39.75" y1="234" x2="42.75" y2="234" stroke="#222" stroke-width="1.2" />
<line x1="39.75" y1="191.25" x2="42.75" y2="191.25" stroke="#222" stroke-width="1.2" />
<line x1="41.25" y1="298.12" x2="42.75" y2="298.12" stroke="#222" stroke-width="1.2" />
<line x1="41.25" y1="255.38" x2="42.75" y2="255.38" stroke="#222" stroke-width="1.2" />
<line x1="41.25" y1="212.62" x2="42.75" y2="212.62" stroke="#222" stroke-width="1.2" />
<line x1="42.75" y1="319.5" x2="42.75" y2="322.5" stroke="#222" stroke-width="1.2" />
<line x1="90.63" y1="319.5" x2="90.63" y2="322.5" stroke="#222" stroke-width="1.2" />
<line x1="138.51" y1="319.5" x2="138.51" y2="322.5" stroke="#222" stroke-width="1.2" />
<line x1="186.39" y1="319.5" x2="186.39" y2="322.5" stroke="#222" stroke-width="1.2" />
<line x1="234.27" y1="319.5" x2="234.27" y2="322.5" stroke="#222" stroke-width="1.2" />
<line x1="66.69" y1="319.5" x2="66.69" y2="321" stroke="#222" stroke-width="1.2" />
<line x1="114.57" y1="319.5" x2="114.57" y2="321" stroke="#222" stroke-width="1.2" />
<line x1="162.45" y1="319.5" x2="162.45" y2="321" stroke="#222" stroke-width="1.2" />
<line x1="210.33" y1="319.5" x2="210.33" y2="321" stroke="#222" stroke-width="1.2" />
<text class="t" transform="translate(39,322.8) scale(1,1.2)" text-anchor="end" font-size="8" font-weight="normal" >0</text>
<text class="t" transform="translate(39,280.05) scale(1,1.2)" text-anchor="end" font-size="8" font-weight="normal" >500</text>
<text class="t" transform="translate(39,237.3) scale(1,1.2)" text-anchor="end" font-size="8" font-weight="normal" >1000</text>
<text class="t" transform="translate(39,194.55) scale(1,1.2)" text-anchor="end" font-size="8" font-weight="normal" >1500</text>
<text class="t" transform="translate(42.75,330.7) scale(1,1.2)" text-anchor="middle" font-size="8" font-weight="normal" >400</text>
<text class="t" transform="translate(90.63,330.7) scale(1,1.2)" text-anchor="middle" font-size="8" font-weight="normal" >500</text>
<text class="t" transform="translate(138.51,330.7) scale(1,1.2)" text-anchor="middle" font-size="8" font-weight="normal" >600</text>
<text class="t" transform="translate(186.39,330.7) scale(1,1.2)" text-anchor="middle" font-size="8" font-weight="normal" >700</text>
<text class="t" transform="translate(234.27,330.7) scale(1,1.2)" text-anchor="middle" font-size="8" font-weight="normal" >800</text>
<text class="t" transform="translate(138.62,342.4) scale(1,1.2)" text-anchor="middle" font-size="8" font-weight="normal" >Wavelength (nm)</text>
<text class="t" x="0" y="0" text-anchor="middle" font-size="8" transform="translate(16.9,253.88) rotate(-90) scale(1,1.2)">Intensity</text>
<text transform="translate(4.5,197.9) scale(1,1.0)" text-anchor="start" font-size="19" font-weight="bold" fill="#000">c</text>
<path d="M49.45 315.5L50.41 315.47L51.37 315.44L52.33 315.41L53.28 315.39L54.24 315.36L55.2 315.33L56.16 315.31L57.11 315.28L58.07 315.26L59.03 315.23L59.99 315.21L60.94 315.18L61.9 315.16L62.86 315.13L63.82 315.11L64.77 315.09L65.73 315.07L66.69 315.05L67.65 315.03L68.61 315.01L69.56 314.99L70.52 314.98L71.48 314.96L72.44 314.94L73.39 314.93L74.35 314.92L75.31 314.91L76.27 314.9L77.22 314.89L78.18 314.88L79.14 314.87L80.1 314.87L81.05 314.87L82.01 314.86L82.97 314.86L83.93 314.87L84.88 314.87L85.84 314.87L86.8 314.88L87.76 314.89L88.71 314.9L89.67 314.91L90.63 314.93L91.59 314.95L92.55 314.96L93.5 314.99L94.46 315.01L95.42 315.03L96.38 315.06L97.33 315.09L98.29 315.12L99.25 315.16L100.21 315.19L101.16 315.23L102.12 315.27L103.08 315.32L104.04 315.36L104.99 315.41L105.95 315.46L106.91 315.51L107.87 315.56L108.82 315.61L109.78 315.67L110.74 315.73L111.7 315.79L112.65 315.85L113.61 315.91L114.57 315.97L115.53 316.04L116.49 316.1L117.44 316.17L118.4 316.23L119.36 316.3L120.32 316.37L121.27 316.43L122.23 316.5L123.19 316.56L124.15 316.63L125.1 316.69L126.06 316.75L127.02 316.82L127.98 316.88L128.93 316.93L129.89 316.99L130.85 317.05L131.81 317.1L132.76 317.15L133.72 317.2L134.68 317.24L135.64 317.28L136.59 317.32L137.55 317.36L138.51 317.39L139.47 317.42L140.43 317.45L141.38 317.48L142.34 317.5L143.3 317.52L144.26 317.54L145.21 317.55L146.17 317.57L147.13 317.58L148.09 317.59L149.04 317.6L150 317.6L150.96 317.61L151.92 317.61L152.87 317.61L153.83 317.61L154.79 317.62L155.75 317.62L156.7 317.62L157.66 317.62L158.62 317.62L159.58 317.62L160.53 317.62L161.49 317.62L162.45 317.62L163.41 317.62L164.37 317.62L165.32 317.62L166.28 317.62L167.24 317.62L168.2 317.62L169.15 317.62L170.11 317.62L171.07 317.62L172.03 317.62L172.98 317.62L173.94 317.62L174.9 317.62L175.86 317.62L176.81 317.62L177.77 317.62L178.73 317.62L179.69 317.62L180.64 317.62L181.6 317.62L182.56 317.62L183.52 317.62L184.47 317.62L185.43 317.62L186.39 317.62L187.35 317.62L188.31 317.62L189.26 317.62L190.22 317.62L191.18 317.62L192.14 317.62L193.09 317.62L194.05 317.62L195.01 317.62L195.97 317.62L196.92 317.62L197.88 317.62L198.84 317.62L199.8 317.62L200.75 317.62L201.71 317.62L202.67 317.62L203.63 317.62L204.58 317.62L205.54 317.62L206.5 317.62L207.46 317.62L207.94 317.62" stroke="#1515f0" stroke-width="1.3" fill="none" stroke-dasharray="3 2"/>
<path d="M49.45 314.9L50.41 314.73L51.37 314.56L52.33 314.4L53.28 314.23L54.24 314.08L55.2 313.93L56.16 313.78L57.11 313.65L58.07 313.51L59.03 313.39L59.99 313.27L60.94 313.16L61.9 313.06L62.86 312.96L63.82 312.88L64.77 312.8L65.73 312.72L66.69 312.66L67.65 312.6L68.61 312.55L69.56 312.51L70.52 312.47L71.48 312.44L72.44 312.42L73.39 312.4L74.35 312.39L75.31 312.39L76.27 312.39L77.22 312.4L78.18 312.41L79.14 312.42L80.1 312.45L81.05 312.47L82.01 312.51L82.97 312.54L83.93 312.58L84.88 312.62L85.84 312.67L86.8 312.72L87.76 312.77L88.71 312.82L89.67 312.88L90.63 312.94L91.59 313L92.55 313.06L93.5 313.13L94.46 313.2L95.42 313.26L96.38 313.33L97.33 313.4L98.29 313.47L99.25 313.55L100.21 313.62L101.16 313.69L102.12 313.77L103.08 313.84L104.04 313.91L104.99 313.99L105.95 314.06L106.91 314.13L107.87 314.21L108.82 314.28L109.78 314.35L110.74 314.43L111.7 314.5L112.65 314.57L113.61 314.64L114.57 314.71L115.53 314.78L116.49 314.85L117.44 314.92L118.4 314.98L119.36 315.05L120.32 315.11L121.27 315.18L122.23 315.24L123.19 315.31L124.15 315.37L125.1 315.43L126.06 315.49L127.02 315.55L127.98 315.6L128.93 315.66L129.89 315.72L130.85 315.77L131.81 315.83L132.76 315.88L133.72 315.93L134.68 315.98L135.64 316.03L136.59 316.08L137.55 316.13L138.51 316.17L139.47 316.22L140.43 316.27L141.38 316.31L142.34 316.35L143.3 316.4L144.26 316.44L145.21 316.48L146.17 316.52L147.13 316.56L148.09 316.59L149.04 316.63L150 316.67L150.96 316.7L151.92 316.74L152.87 316.77L153.83 316.8L154.79 316.83L155.75 316.87L156.7 316.9L157.66 316.93L158.62 316.95L159.58 316.98L160.53 317.01L161.49 317.04L162.45 317.06L163.41 317.09L164.37 317.11L165.32 317.14L166.28 317.16L167.24 317.19L168.2 317.21L169.15 317.23L170.11 317.25L171.07 317.27L172.03 317.29L172.98 317.31L173.94 317.33L174.9 317.35L175.86 317.37L176.81 317.39L177.77 317.41L178.73 317.42L179.69 317.44L180.64 317.46L181.6 317.47L182.56 317.49L183.52 317.5L184.47 317.52L185.43 317.53L186.39 317.55L187.35 317.56L188.31 317.57L189.26 317.58L190.22 317.6L191.18 317.61L192.14 317.62L193.09 317.63L194.05 317.64L195.01 317.65L195.97 317.66L196.92 317.68L197.88 317.69L198.84 317.69L199.8 317.7L200.75 317.71L201.71 317.72L202.67 317.73L203.63 317.74L204.58 317.75L205.54 317.76L206.5 317.76L207.46 317.77L207.94 317.78" stroke="#f02020" stroke-width="1.3" fill="none" stroke-dasharray="3 2"/>
<path d="M49.45 314.52L50.41 314.27L51.37 314.02L52.33 313.76L53.28 313.5L54.24 313.24L55.2 312.98L56.16 312.72L57.11 312.46L58.07 312.2L59.03 311.94L59.99 311.69L60.94 311.44L61.9 311.2L62.86 310.97L63.82 310.74L64.77 310.52L65.73 310.31L66.69 310.11L67.65 309.92L68.61 309.74L69.56 309.58L70.52 309.42L71.48 309.28L72.44 309.14L73.39 309.03L74.35 308.92L75.31 308.82L76.27 308.74L77.22 308.67L78.18 308.62L79.14 308.57L80.1 308.54L81.05 308.53L82.01 308.52L82.97 308.52L83.93 308.53L84.88 308.56L85.84 308.59L86.8 308.64L87.76 308.69L88.71 308.76L89.67 308.83L90.63 308.91L91.59 309L92.55 309.1L93.5 309.2L94.46 309.31L95.42 309.43L96.38 309.55L97.33 309.67L98.29 309.8L99.25 309.94L100.21 310.08L101.16 310.22L102.12 310.36L103.08 310.51L104.04 310.66L104.99 310.81L105.95 310.97L106.91 311.12L107.87 311.27L108.82 311.43L109.78 311.58L110.74 311.74L111.7 311.89L112.65 312.05L113.61 312.2L114.57 312.35L115.53 312.5L116.49 312.65L117.44 312.8L118.4 312.95L119.36 313.09L120.32 313.23L121.27 313.37L122.23 313.51L123.19 313.64L124.15 313.78L125.1 313.91L126.06 314.04L127.02 314.16L127.98 314.28L128.93 314.4L129.89 314.52L130.85 314.63L131.81 314.75L132.76 314.85L133.72 314.96L134.68 315.06L135.64 315.16L136.59 315.26L137.55 315.36L138.51 315.45L139.47 315.54L140.43 315.63L141.38 315.71L142.34 315.79L143.3 315.87L144.26 315.95L145.21 316.02L146.17 316.1L147.13 316.17L148.09 316.23L149.04 316.3L150 316.36L150.96 316.42L151.92 316.48L152.87 316.54L153.83 316.59L154.79 316.65L155.75 316.7L156.7 316.75L157.66 316.79L158.62 316.84L159.58 316.88L160.53 316.93L161.49 316.97L162.45 317.01L163.41 317.04L164.37 317.08L165.32 317.11L166.28 317.15L167.24 317.18L168.2 317.21L169.15 317.24L170.11 317.27L171.07 317.3L172.03 317.32L172.98 317.35L173.94 317.37L174.9 317.4L175.86 317.42L176.81 317.44L177.77 317.46L178.73 317.48L179.69 317.5L180.64 317.52L181.6 317.53L182.56 317.55L183.52 317.57L184.47 317.58L185.43 317.59L186.39 317.61L187.35 317.62L188.31 317.63L189.26 317.65L190.22 317.66L191.18 317.67L192.14 317.68L193.09 317.69L194.05 317.7L195.01 317.71L195.97 317.72L196.92 317.73L197.88 317.74L198.84 317.74L199.8 317.75L200.75 317.76L201.71 317.76L202.67 317.77L203.63 317.78L204.58 317.78L205.54 317.79L206.5 317.79L207.46 317.8L207.94 317.8" stroke="#ff8a10" stroke-width="1.3" fill="none" stroke-dasharray="3 2"/>
<path d="M49.45 311.61L50.41 310.97L51.37 310.31L52.33 309.63L53.28 308.92L54.24 308.2L55.2 307.46L56.16 306.7L57.11 305.94L58.07 305.16L59.03 304.39L59.99 303.62L60.94 302.85L61.9 302.09L62.86 301.34L63.82 300.6L64.77 299.89L65.73 299.19L66.69 298.52L67.65 297.87L68.61 297.25L69.56 296.66L70.52 296.1L71.48 295.57L72.44 295.08L73.39 294.63L74.35 294.22L75.31 293.84L76.27 293.5L77.22 293.2L78.18 292.95L79.14 292.73L80.1 292.54L81.05 292.41L82.01 292.29L82.97 292.23L83.93 292.23L84.88 292.23L85.84 292.24L86.8 292.32L87.76 292.43L88.71 292.56L89.67 292.73L90.63 292.92L91.59 293.14L92.55 293.38L93.5 293.65L94.46 293.94L95.42 294.25L96.38 294.58L97.33 294.92L98.29 295.28L99.25 295.66L100.21 296.05L101.16 296.44L102.12 296.85L103.08 297.27L104.04 297.7L104.99 298.13L105.95 298.56L106.91 299L107.87 299.45L108.82 299.89L109.78 300.34L110.74 300.78L111.7 301.23L112.65 301.67L113.61 302.11L114.57 302.55L115.53 302.98L116.49 303.41L117.44 303.84L118.4 304.26L119.36 304.67L120.32 305.08L121.27 305.48L122.23 305.87L123.19 306.26L124.15 306.64L125.1 307.01L126.06 307.37L127.02 307.73L127.98 308.08L128.93 308.42L129.89 308.75L130.85 309.07L131.81 309.39L132.76 309.69L133.72 309.99L134.68 310.28L135.64 310.56L136.59 310.84L137.55 311.1L138.51 311.36L139.47 311.61L140.43 311.85L141.38 312.09L142.34 312.31L143.3 312.53L144.26 312.74L145.21 312.95L146.17 313.15L147.13 313.34L148.09 313.52L149.04 313.7L150 313.87L150.96 314.04L151.92 314.2L152.87 314.35L153.83 314.5L154.79 314.64L155.75 314.78L156.7 314.91L157.66 315.03L158.62 315.16L159.58 315.27L160.53 315.39L161.49 315.49L162.45 315.6L163.41 315.7L164.37 315.79L165.32 315.88L166.28 315.97L167.24 316.06L168.2 316.14L169.15 316.21L170.11 316.29L171.07 316.36L172.03 316.43L172.98 316.49L173.94 316.56L174.9 316.62L175.86 316.67L176.81 316.73L177.77 316.78L178.73 316.83L179.69 316.88L180.64 316.92L181.6 316.97L182.56 317.01L183.52 317.05L184.47 317.09L185.43 317.13L186.39 317.16L187.35 317.19L188.31 317.23L189.26 317.26L190.22 317.29L191.18 317.31L192.14 317.34L193.09 317.37L194.05 317.39L195.01 317.41L195.97 317.43L196.92 317.46L197.88 317.48L198.84 317.5L199.8 317.51L200.75 317.53L201.71 317.55L202.67 317.56L203.63 317.58L204.58 317.59L205.54 317.61L206.5 317.62L207.46 317.63L207.94 317.64" stroke="#8a10c8" stroke-width="1.3" fill="none" stroke-dasharray="3 2"/>
<path d="M49.45 311.27L50.41 310.63L51.37 309.96L52.33 309.29L53.28 308.59L54.24 307.88L55.2 307.17L56.16 306.44L57.11 305.71L58.07 304.98L59.03 304.24L59.99 303.51L60.94 302.79L61.9 302.08L62.86 301.37L63.82 300.68L64.77 300.01L65.73 299.35L66.69 298.71L67.65 298.1L68.61 297.51L69.56 296.94L70.52 296.4L71.48 295.89L72.44 295.4L73.39 294.95L74.35 294.53L75.31 294.14L76.27 293.78L77.22 293.45L78.18 293.16L79.14 292.89L80.1 292.66L81.05 292.47L82.01 292.3L82.97 292.16L83.93 292.06L84.88 291.98L85.84 291.96L86.8 291.95L87.76 291.95L88.71 291.98L89.67 292.06L90.63 292.15L91.59 292.27L92.55 292.41L93.5 292.57L94.46 292.76L95.42 292.96L96.38 293.19L97.33 293.43L98.29 293.69L99.25 293.97L100.21 294.26L101.16 294.56L102.12 294.88L103.08 295.21L104.04 295.55L104.99 295.9L105.95 296.26L106.91 296.62L107.87 296.99L108.82 297.37L109.78 297.75L110.74 298.14L111.7 298.53L112.65 298.93L113.61 299.32L114.57 299.72L115.53 300.12L116.49 300.52L117.44 300.92L118.4 301.31L119.36 301.71L120.32 302.1L121.27 302.49L122.23 302.88L123.19 303.27L124.15 303.65L125.1 304.03L126.06 304.4L127.02 304.77L127.98 305.13L128.93 305.49L129.89 305.85L130.85 306.2L131.81 306.54L132.76 306.88L133.72 307.21L134.68 307.53L135.64 307.85L136.59 308.16L137.55 308.47L138.51 308.77L139.47 309.07L140.43 309.35L141.38 309.64L142.34 309.91L143.3 310.18L144.26 310.44L145.21 310.7L146.17 310.95L147.13 311.2L148.09 311.43L149.04 311.67L150 311.89L150.96 312.11L151.92 312.33L152.87 312.53L153.83 312.74L154.79 312.93L155.75 313.13L156.7 313.31L157.66 313.49L158.62 313.67L159.58 313.84L160.53 314.01L161.49 314.17L162.45 314.32L163.41 314.47L164.37 314.62L165.32 314.76L166.28 314.9L167.24 315.04L168.2 315.16L169.15 315.29L170.11 315.41L171.07 315.53L172.03 315.64L172.98 315.75L173.94 315.86L174.9 315.96L175.86 316.06L176.81 316.16L177.77 316.25L178.73 316.34L179.69 316.43L180.64 316.51L181.6 316.59L182.56 316.67L183.52 316.75L184.47 316.82L185.43 316.89L186.39 316.96L187.35 317.03L188.31 317.09L189.26 317.15L190.22 317.21L191.18 317.27L192.14 317.32L193.09 317.38L194.05 317.43L195.01 317.48L195.97 317.53L196.92 317.57L197.88 317.62L198.84 317.66L199.8 317.7L200.75 317.74L201.71 317.78L202.67 317.82L203.63 317.85L204.58 317.89L205.54 317.92L206.5 317.95L207.46 317.98L207.94 318" stroke="#a86a20" stroke-width="1.3" fill="none" stroke-dasharray="3 2"/>
<path d="M49.45 310.36L50.41 309.65L51.37 308.93L52.33 308.19L53.28 307.43L54.24 306.66L55.2 305.88L56.16 305.09L57.11 304.29L58.07 303.5L59.03 302.7L59.99 301.92L60.94 301.13L61.9 300.37L62.86 299.61L63.82 298.87L64.77 298.15L65.73 297.44L66.69 296.77L67.65 296.11L68.61 295.48L69.56 294.89L70.52 294.32L71.48 293.78L72.44 293.28L73.39 292.81L74.35 292.37L75.31 291.97L76.27 291.6L77.22 291.27L78.18 290.98L79.14 290.72L80.1 290.49L81.05 290.31L82.01 290.15L82.97 290.03L83.93 289.95L84.88 289.89L85.84 289.88L86.8 289.9L87.76 289.93L88.71 289.99L89.67 290.1L90.63 290.23L91.59 290.38L92.55 290.56L93.5 290.76L94.46 290.99L95.42 291.23L96.38 291.5L97.33 291.78L98.29 292.08L99.25 292.4L100.21 292.73L101.16 293.08L102.12 293.44L103.08 293.81L104.04 294.2L104.99 294.59L105.95 294.99L106.91 295.4L107.87 295.81L108.82 296.23L109.78 296.65L110.74 297.08L111.7 297.51L112.65 297.95L113.61 298.38L114.57 298.81L115.53 299.25L116.49 299.68L117.44 300.12L118.4 300.55L119.36 300.98L120.32 301.4L121.27 301.82L122.23 302.24L123.19 302.66L124.15 303.07L125.1 303.47L126.06 303.87L127.02 304.27L127.98 304.66L128.93 305.04L129.89 305.41L130.85 305.78L131.81 306.15L132.76 306.51L133.72 306.86L134.68 307.2L135.64 307.54L136.59 307.87L137.55 308.19L138.51 308.51L139.47 308.81L140.43 309.12L141.38 309.41L142.34 309.7L143.3 309.98L144.26 310.25L145.21 310.52L146.17 310.78L147.13 311.03L148.09 311.28L149.04 311.52L150 311.75L150.96 311.98L151.92 312.2L152.87 312.42L153.83 312.63L154.79 312.83L155.75 313.02L156.7 313.22L157.66 313.4L158.62 313.58L159.58 313.76L160.53 313.92L161.49 314.09L162.45 314.25L163.41 314.4L164.37 314.55L165.32 314.69L166.28 314.83L167.24 314.97L168.2 315.1L169.15 315.23L170.11 315.35L171.07 315.47L172.03 315.58L172.98 315.69L173.94 315.8L174.9 315.9L175.86 316L176.81 316.1L177.77 316.19L178.73 316.28L179.69 316.37L180.64 316.45L181.6 316.53L182.56 316.61L183.52 316.68L184.47 316.76L185.43 316.83L186.39 316.89L187.35 316.96L188.31 317.02L189.26 317.08L190.22 317.14L191.18 317.2L192.14 317.25L193.09 317.3L194.05 317.35L195.01 317.4L195.97 317.45L196.92 317.49L197.88 317.54L198.84 317.58L199.8 317.62L200.75 317.66L201.71 317.69L202.67 317.73L203.63 317.76L204.58 317.8L205.54 317.83L206.5 317.86L207.46 317.89L207.94 317.9" stroke="#158a15" stroke-width="1.3" fill="none" stroke-dasharray="3 2"/>
<path d="M49.45 301.43L50.41 298.87L51.37 296.23L52.33 293.51L53.28 290.71L54.24 287.86L55.2 284.99L56.16 282.11L57.11 279.25L58.07 276.4L59.03 273.61L59.99 270.88L60.94 268.21L61.9 265.65L62.86 263.17L63.82 260.8L64.77 258.54L65.73 256.4L66.69 254.39L67.65 252.51L68.61 250.76L69.56 249.15L70.52 247.66L71.48 246.33L72.44 245.11L73.39 244.05L74.35 243.11L75.31 242.28L76.27 241.61L77.22 241.03L78.18 240.6L79.14 240.26L80.1 240.02L81.05 239.98L82.01 239.99L82.97 240.01L83.93 240.15L84.88 240.45L85.84 240.78L86.8 241.21L87.76 241.7L88.71 242.26L89.67 242.89L90.63 243.56L91.59 244.3L92.55 245.09L93.5 245.91L94.46 246.79L95.42 247.69L96.38 248.64L97.33 249.61L98.29 250.61L99.25 251.64L100.21 252.68L101.16 253.75L102.12 254.83L103.08 255.92L104.04 257.02L104.99 258.13L105.95 259.25L106.91 260.37L107.87 261.49L108.82 262.61L109.78 263.73L110.74 264.85L111.7 265.96L112.65 267.07L113.61 268.17L114.57 269.26L115.53 270.35L116.49 271.42L117.44 272.48L118.4 273.53L119.36 274.57L120.32 275.6L121.27 276.61L122.23 277.61L123.19 278.59L124.15 279.56L125.1 280.52L126.06 281.45L127.02 282.38L127.98 283.28L128.93 284.17L129.89 285.05L130.85 285.91L131.81 286.75L132.76 287.58L133.72 288.39L134.68 289.18L135.64 289.96L136.59 290.72L137.55 291.47L138.51 292.2L139.47 292.91L140.43 293.61L141.38 294.29L142.34 294.96L143.3 295.61L144.26 296.25L145.21 296.87L146.17 297.48L147.13 298.07L148.09 298.65L149.04 299.22L150 299.77L150.96 300.31L151.92 300.84L152.87 301.35L153.83 301.85L154.79 302.34L155.75 302.82L156.7 303.28L157.66 303.73L158.62 304.17L159.58 304.6L160.53 305.02L161.49 305.43L162.45 305.83L163.41 306.22L164.37 306.59L165.32 306.96L166.28 307.32L167.24 307.67L168.2 308.01L169.15 308.34L170.11 308.66L171.07 308.97L172.03 309.28L172.98 309.57L173.94 309.86L174.9 310.14L175.86 310.41L176.81 310.68L177.77 310.94L178.73 311.19L179.69 311.44L180.64 311.68L181.6 311.91L182.56 312.13L183.52 312.35L184.47 312.57L185.43 312.77L186.39 312.98L187.35 313.17L188.31 313.36L189.26 313.55L190.22 313.73L191.18 313.91L192.14 314.08L193.09 314.25L194.05 314.41L195.01 314.56L195.97 314.72L196.92 314.87L197.88 315.01L198.84 315.15L199.8 315.29L200.75 315.42L201.71 315.55L202.67 315.68L203.63 315.8L204.58 315.92L205.54 316.04L206.5 316.15L207.46 316.26L207.94 316.31" stroke="#a5a5a5" stroke-width="1.3" fill="none" stroke-dasharray="3 2"/>
<path d="M49.45 297.99L50.41 295.01L51.37 291.95L52.33 288.83L53.28 285.62L54.24 282.38L55.2 279.13L56.16 275.86L57.11 272.63L58.07 269.42L59.03 266.28L59.99 263.2L60.94 260.19L61.9 257.3L62.86 254.5L63.82 251.82L64.77 249.27L65.73 246.85L66.69 244.58L67.65 242.44L68.61 240.45L69.56 238.61L70.52 236.92L71.48 235.4L72.44 234L73.39 232.78L74.35 231.7L75.31 230.75L76.27 229.97L77.22 229.3L78.18 228.8L79.14 228.4L80.1 228.12L81.05 228.08L82.01 228.09L82.97 228.11L83.93 228.28L84.88 228.62L85.84 229.01L86.8 229.51L87.76 230.09L88.71 230.75L89.67 231.49L90.63 232.29L91.59 233.16L92.55 234.09L93.5 235.08L94.46 236.12L95.42 237.2L96.38 238.32L97.33 239.48L98.29 240.68L99.25 241.91L100.21 243.16L101.16 244.43L102.12 245.73L103.08 247.04L104.04 248.36L104.99 249.7L105.95 251.04L106.91 252.39L107.87 253.74L108.82 255.09L109.78 256.44L110.74 257.79L111.7 259.14L112.65 260.47L113.61 261.8L114.57 263.12L115.53 264.43L116.49 265.73L117.44 267.01L118.4 268.29L119.36 269.54L120.32 270.78L121.27 272.01L122.23 273.22L123.19 274.41L124.15 275.58L125.1 276.73L126.06 277.87L127.02 278.98L127.98 280.08L128.93 281.16L129.89 282.22L130.85 283.25L131.81 284.27L132.76 285.27L133.72 286.25L134.68 287.21L135.64 288.14L136.59 289.06L137.55 289.96L138.51 290.84L139.47 291.7L140.43 292.54L141.38 293.36L142.34 294.16L143.3 294.95L144.26 295.71L145.21 296.46L146.17 297.19L147.13 297.9L148.09 298.6L149.04 299.27L150 299.93L150.96 300.58L151.92 301.21L152.87 301.82L153.83 302.41L154.79 303L155.75 303.56L156.7 304.11L157.66 304.65L158.62 305.17L159.58 305.68L160.53 306.18L161.49 306.66L162.45 307.13L163.41 307.59L164.37 308.03L165.32 308.46L166.28 308.88L167.24 309.29L168.2 309.69L169.15 310.08L170.11 310.45L171.07 310.82L172.03 311.18L172.98 311.52L173.94 311.86L174.9 312.19L175.86 312.5L176.81 312.81L177.77 313.11L178.73 313.4L179.69 313.69L180.64 313.96L181.6 314.23L182.56 314.49L183.52 314.74L184.47 314.99L185.43 315.23L186.39 315.46L187.35 315.68L188.31 315.9L189.26 316.11L190.22 316.32L191.18 316.52L192.14 316.72L193.09 316.9L194.05 317.09L195.01 317.27L195.97 317.44L196.92 317.61L197.88 317.77L198.84 317.93L199.8 318.08L200.75 318.23L201.71 318.38L202.67 318.52L203.63 318.65L204.58 318.79L205.54 318.91L206.5 319.04L207.46 319.16L207.94 319.22" stroke="#111" stroke-width="1.3" fill="none" stroke-dasharray="3 2"/>
<line x1="191.1" y1="197.6" x2="197.4" y2="197.6" stroke="#111" stroke-width="1.3" stroke-dasharray="3 2"/>
<text class="t" transform="translate(200.7,200.9) scale(1,1.2)" text-anchor="start" font-size="8" font-weight="normal" >Untreated</text>
<line x1="191.1" y1="211.95" x2="197.4" y2="211.95" stroke="#a5a5a5" stroke-width="1.3" stroke-dasharray="3 2"/>
<text class="t" transform="translate(200.7,215.25) scale(1,1.2)" text-anchor="start" font-size="8" font-weight="normal" >TRB</text>
<line x1="191.1" y1="226.3" x2="197.4" y2="226.3" stroke="#158a15" stroke-width="1.3" stroke-dasharray="3 2"/>
<text class="t" transform="translate(200.7,229.6) scale(1,1.2)" text-anchor="start" font-size="8" font-weight="normal" >CuSO4</text>
<line x1="191.1" y1="240.65" x2="197.4" y2="240.65" stroke="#8a10c8" stroke-width="1.3" stroke-dasharray="3 2"/>
<text class="t" transform="translate(200.7,243.95) scale(1,1.2)" text-anchor="start" font-size="8" font-weight="normal" >NH3</text>
<line x1="191.1" y1="255" x2="197.4" y2="255" stroke="#a86a20" stroke-width="1.3" stroke-dasharray="3 2"/>
<text class="t" transform="translate(200.7,258.3) scale(1,1.2)" text-anchor="start" font-size="8" font-weight="normal" >TrueVIEW</text>
<line x1="191.1" y1="269.35" x2="197.4" y2="269.35" stroke="#ff8a10" stroke-width="1.3" stroke-dasharray="3 2"/>
<text class="t" transform="translate(200.7,272.65) scale(1,1.2)" text-anchor="start" font-size="8" font-weight="normal" >SBB</text>
<line x1="191.1" y1="283.7" x2="197.4" y2="283.7" stroke="#f02020" stroke-width="1.3" stroke-dasharray="3 2"/>
<text class="t" transform="translate(200.7,287) scale(1,1.2)" text-anchor="start" font-size="8" font-weight="normal" >TrueBlack</text>
<line x1="191.1" y1="298.05" x2="197.4" y2="298.05" stroke="#1515f0" stroke-width="1.3" stroke-dasharray="3 2"/>
<text class="t" transform="translate(200.7,301.35) scale(1,1.2)" text-anchor="start" font-size="8" font-weight="normal" >MaxBlock</text>
<line x1="302.25" y1="191.75" x2="302.25" y2="320" stroke="#222" stroke-width="1.2" />
<line x1="302.25" y1="320" x2="494.25" y2="320" stroke="#222" stroke-width="1.2" />
<line x1="299.25" y1="320.5" x2="302.25" y2="320.5" stroke="#222" stroke-width="1.2" />
<line x1="299.25" y1="294.75" x2="302.25" y2="294.75" stroke="#222" stroke-width="1.2" />
<line x1="299.25" y1="269" x2="302.25" y2="269" stroke="#222" stroke-width="1.2" />
<line x1="299.25" y1="243.25" x2="302.25" y2="243.25" stroke="#222" stroke-width="1.2" />
<line x1="299.25" y1="217.5" x2="302.25" y2="217.5" stroke="#222" stroke-width="1.2" />
<line x1="299.25" y1="191.75" x2="302.25" y2="191.75" stroke="#222" stroke-width="1.2" />
<line x1="300.75" y1="307.62" x2="302.25" y2="307.62" stroke="#222" stroke-width="1.2" />
<line x1="300.75" y1="281.88" x2="302.25" y2="281.88" stroke="#222" stroke-width="1.2" />
<line x1="300.75" y1="256.12" x2="302.25" y2="256.12" stroke="#222" stroke-width="1.2" />
<line x1="300.75" y1="230.38" x2="302.25" y2="230.38" stroke="#222" stroke-width="1.2" />
<line x1="300.75" y1="204.62" x2="302.25" y2="204.62" stroke="#222" stroke-width="1.2" />
<line x1="302.25" y1="320" x2="302.25" y2="323" stroke="#222" stroke-width="1.2" />
<line x1="366.25" y1="320" x2="366.25" y2="323" stroke="#222" stroke-width="1.2" />
<line x1="430.25" y1="320" x2="430.25" y2="323" stroke="#222" stroke-width="1.2" />
<line x1="494.25" y1="320" x2="494.25" y2="323" stroke="#222" stroke-width="1.2" />
<line x1="334.25" y1="320" x2="334.25" y2="321.5" stroke="#222" stroke-width="1.2" />
<line x1="398.25" y1="320" x2="398.25" y2="321.5" stroke="#222" stroke-width="1.2" />
<line x1="462.25" y1="320" x2="462.25" y2="321.5" stroke="#222" stroke-width="1.2" />
<text class="t" transform="translate(298.5,323.8) scale(1,1.2)" text-anchor="end" font-size="8" font-weight="normal" >0</text>
<text class="t" transform="translate(298.5,298.05) scale(1,1.2)" text-anchor="end" font-size="8" font-weight="normal" >100</text>
<text class="t" transform="translate(298.5,272.3) scale(1,1.2)" text-anchor="end" font-size="8" font-weight="normal" >200</text>
<text class="t" transform="translate(298.5,246.55) scale(1,1.2)" text-anchor="end" font-size="8" font-weight="normal" >300</text>
<text class="t" transform="translate(298.5,220.8) scale(1,1.2)" text-anchor="end" font-size="8" font-weight="normal" >400</text>
<text class="t" transform="translate(298.5,195.05) scale(1,1.2)" text-anchor="end" font-size="8" font-weight="normal" >500</text>
<text class="t" transform="translate(302.25,330.7) scale(1,1.2)" text-anchor="middle" font-size="8" font-weight="normal" >500</text>
<text class="t" transform="translate(366.25,330.7) scale(1,1.2)" text-anchor="middle" font-size="8" font-weight="normal" >600</text>
<text class="t" transform="translate(430.25,330.7) scale(1,1.2)" text-anchor="middle" font-size="8" font-weight="normal" >700</text>
<text class="t" transform="translate(494.25,330.7) scale(1,1.2)" text-anchor="middle" font-size="8" font-weight="normal" >800</text>
<text class="t" transform="translate(398.25,342.4) scale(1,1.2)" text-anchor="middle" font-size="8" font-weight="normal" >Wavelength (nm)</text>
<text class="t" x="0" y="0" text-anchor="middle" font-size="8" transform="translate(281.5,254.38) rotate(-90) scale(1,1.2)">Intensity</text>
<text transform="translate(270,199.1) scale(1,1.0)" text-anchor="start" font-size="19" font-weight="bold" fill="#000">d</text>
<path d="M312.49 310.71L313.77 310.75L315.05 310.78L316.33 310.82L317.61 310.85L318.89 310.88L320.17 310.91L321.45 310.95L322.73 310.98L324.01 311.01L325.29 311.04L326.57 311.06L327.85 311.09L329.13 311.11L330.41 311.14L331.69 311.16L332.97 311.18L334.25 311.19L335.53 311.2L336.81 311.22L338.09 311.22L339.37 311.23L340.65 311.23L341.93 311.23L343.21 311.23L344.49 311.23L345.77 311.23L347.05 311.23L348.33 311.23L349.61 311.23L350.89 311.23L352.17 311.23L353.45 311.23L354.73 311.23L356.01 311.23L357.29 311.23L358.57 311.23L359.85 311.23L361.13 311.23L362.41 311.23L363.69 311.23L364.97 311.23L366.25 311.23L367.53 311.23L368.81 311.23L370.09 311.23L371.37 311.23L372.65 311.23L373.93 311.23L375.21 311.23L376.49 311.23L377.77 311.23L379.05 311.23L380.33 311.23L381.61 311.23L382.89 311.23L384.17 311.23L385.45 311.23L386.73 311.24L388.01 311.24L389.29 311.24L390.57 311.24L391.85 311.25L393.13 311.25L394.41 311.25L395.69 311.26L396.97 311.26L398.25 311.27L399.53 311.27L400.81 311.28L402.09 311.28L403.37 311.29L404.65 311.3L405.93 311.3L407.21 311.31L408.49 311.32L409.77 311.33L411.05 311.33L412.33 311.34L413.61 311.35L414.89 311.36L416.17 311.37L417.45 311.38L418.73 311.39L420.01 311.4L421.29 311.41L422.57 311.42L423.85 311.43L425.13 311.44L426.41 311.45L427.69 311.46L428.97 311.48L430.25 311.49L431.53 311.5L432.81 311.52L434.09 311.55L435.37 311.58L436.65 311.61L437.93 311.65L439.21 311.69L440.49 311.73L441.77 311.78L443.05 311.83L444.33 311.88L445.61 311.94L446.89 311.99L448.17 312.05L449.45 312.11L450.73 312.17L452.01 312.23L453.29 312.3L454.57 312.36L455.85 312.42L457.13 312.49L457.77 312.52" stroke="#1515f0" stroke-width="1.3" fill="none" stroke-dasharray="3 2"/>
<path d="M312.49 309.43L313.77 309.47L315.05 309.51L316.33 309.54L317.61 309.58L318.89 309.62L320.17 309.66L321.45 309.69L322.73 309.73L324.01 309.77L325.29 309.8L326.57 309.84L327.85 309.87L329.13 309.91L330.41 309.94L331.69 309.98L332.97 310.01L334.25 310.04L335.53 310.08L336.81 310.11L338.09 310.14L339.37 310.17L340.65 310.2L341.93 310.23L343.21 310.26L344.49 310.29L345.77 310.33L347.05 310.36L348.33 310.4L349.61 310.43L350.89 310.46L352.17 310.5L353.45 310.53L354.73 310.57L356.01 310.6L357.29 310.63L358.57 310.67L359.85 310.7L361.13 310.73L362.41 310.76L363.69 310.79L364.97 310.81L366.25 310.84L367.53 310.86L368.81 310.88L370.09 310.9L371.37 310.92L372.65 310.94L373.93 310.95L375.21 310.96L376.49 310.97L377.77 310.97L379.05 310.97L380.33 310.97L381.61 310.97L382.89 310.97L384.17 310.97L385.45 310.97L386.73 310.97L388.01 310.97L389.29 310.97L390.57 310.97L391.85 310.97L393.13 310.97L394.41 310.97L395.69 310.97L396.97 310.97L398.25 310.97L399.53 310.97L400.81 310.97L402.09 310.97L403.37 310.97L404.65 310.97L405.93 310.97L407.21 310.97L408.49 310.97L409.77 310.97L411.05 310.97L412.33 310.97L413.61 310.97L414.89 310.97L416.17 310.97L417.45 310.97L418.73 310.97L420.01 310.97L421.29 310.97L422.57 310.97L423.85 310.97L425.13 310.97L426.41 310.97L427.69 310.97L428.97 310.97L430.25 310.97L431.53 310.98L432.81 310.99L434.09 311.02L435.37 311.05L436.65 311.1L437.93 311.15L439.21 311.21L440.49 311.27L441.77 311.35L443.05 311.42L444.33 311.51L445.61 311.59L446.89 311.68L448.17 311.78L449.45 311.87L450.73 311.97L452.01 312.07L453.29 312.17L454.57 312.27L455.85 312.37L457.13 312.47L457.77 312.52" stroke="#f02020" stroke-width="1.3" fill="none" stroke-dasharray="3 2"/>
<path d="M312.49 308.4L313.77 307.9L315.05 307.41L316.33 306.94L317.61 306.49L318.89 306.06L320.17 305.67L321.45 305.3L322.73 304.96L324.01 304.67L325.29 304.41L326.57 304.15L327.85 303.9L329.13 303.65L330.41 303.41L331.69 303.18L332.97 302.97L334.25 302.77L335.53 302.6L336.81 302.46L338.09 302.34L339.37 302.26L340.65 302.22L341.93 302.22L343.21 302.25L344.49 302.31L345.77 302.39L347.05 302.49L348.33 302.61L349.61 302.75L350.89 302.9L352.17 303.06L353.45 303.23L354.73 303.41L356.01 303.6L357.29 303.78L358.57 303.97L359.85 304.15L361.13 304.32L362.41 304.49L363.69 304.65L364.97 304.79L366.25 304.93L367.53 305.07L368.81 305.2L370.09 305.34L371.37 305.48L372.65 305.62L373.93 305.75L375.21 305.88L376.49 306.02L377.77 306.15L379.05 306.27L380.33 306.4L381.61 306.54L382.89 306.69L384.17 306.85L385.45 307L386.73 307.15L388.01 307.29L389.29 307.41L390.57 307.51L391.85 307.58L393.13 307.62L394.41 307.62L395.69 307.62L396.97 307.62L398.25 307.62L399.53 307.62L400.81 307.62L402.09 307.62L403.37 307.62L404.65 307.62L405.93 307.62L407.21 307.62L408.49 307.62L409.77 307.62L411.05 307.62L412.33 307.62L413.61 307.62L414.89 307.62L416.17 307.62L417.45 307.62L418.73 307.62L420.01 307.62L421.29 307.66L422.57 307.76L423.85 307.92L425.13 308.12L426.41 308.35L427.69 308.61L428.97 308.87L430.25 309.14L431.53 309.4L432.81 309.64L434.09 309.85L435.37 310.03L436.65 310.19L437.93 310.36L439.21 310.52L440.49 310.68L441.77 310.84L443.05 311L444.33 311.15L445.61 311.3L446.89 311.44L448.17 311.58L449.45 311.72L450.73 311.86L452.01 311.99L453.29 312.11L454.57 312.23L455.85 312.35L457.13 312.46L457.77 312.52" stroke="#ff8a10" stroke-width="1.3" fill="none" stroke-dasharray="3 2"/>
<path d="M312.49 293.68L313.77 292.51L315.05 291.44L316.33 290.48L317.61 289.6L318.89 288.84L320.17 288.17L321.45 287.59L322.73 287.12L324.01 286.73L325.29 286.43L326.57 286.21L327.85 286.06L329.13 286.04L330.41 286.05L331.69 286.07L332.97 286.18L334.25 286.37L335.53 286.58L336.81 286.85L338.09 287.15L339.37 287.49L340.65 287.86L341.93 288.25L343.21 288.67L344.49 289.11L345.77 289.56L347.05 290.03L348.33 290.51L349.61 291L350.89 291.5L352.17 292L353.45 292.51L354.73 293.02L356.01 293.53L357.29 294.03L358.57 294.54L359.85 295.04L361.13 295.54L362.41 296.03L363.69 296.52L364.97 297L366.25 297.47L367.53 297.94L368.81 298.4L370.09 298.85L371.37 299.29L372.65 299.72L373.93 300.14L375.21 300.56L376.49 300.96L377.77 301.35L379.05 301.74L380.33 302.11L381.61 302.48L382.89 302.84L384.17 303.19L385.45 303.52L386.73 303.85L388.01 304.17L389.29 304.48L390.57 304.79L391.85 305.08L393.13 305.36L394.41 305.64L395.69 305.91L396.97 306.17L398.25 306.42L399.53 306.67L400.81 306.91L402.09 307.14L403.37 307.36L404.65 307.58L405.93 307.79L407.21 307.99L408.49 308.19L409.77 308.38L411.05 308.56L412.33 308.74L413.61 308.92L414.89 309.08L416.17 309.24L417.45 309.4L418.73 309.55L420.01 309.7L421.29 309.84L422.57 309.98L423.85 310.11L425.13 310.24L426.41 310.37L427.69 310.49L428.97 310.61L430.25 310.72L431.53 310.83L432.81 310.93L434.09 311.04L435.37 311.14L436.65 311.23L437.93 311.32L439.21 311.41L440.49 311.5L441.77 311.58L443.05 311.67L444.33 311.74L445.61 311.82L446.89 311.89L448.17 311.96L449.45 312.03L450.73 312.1L452.01 312.16L453.29 312.23L454.57 312.29L455.85 312.34L457.13 312.4L457.77 312.43" stroke="#8a10c8" stroke-width="1.3" fill="none" stroke-dasharray="3 2"/>
<path d="M312.49 288.92L313.77 288.1L315.05 287.34L316.33 286.66L317.61 286.04L318.89 285.5L320.17 285.03L321.45 284.62L322.73 284.29L324.01 284.01L325.29 283.81L326.57 283.67L327.85 283.57L329.13 283.56L330.41 283.59L331.69 283.64L332.97 283.75L334.25 283.93L335.53 284.13L336.81 284.38L338.09 284.66L339.37 284.97L340.65 285.32L341.93 285.68L343.21 286.08L344.49 286.49L345.77 286.93L347.05 287.38L348.33 287.85L349.61 288.33L350.89 288.82L352.17 289.32L353.45 289.83L354.73 290.34L356.01 290.86L357.29 291.38L358.57 291.9L359.85 292.42L361.13 292.94L362.41 293.46L363.69 293.98L364.97 294.49L366.25 295L367.53 295.51L368.81 296.01L370.09 296.5L371.37 296.98L372.65 297.46L373.93 297.93L375.21 298.4L376.49 298.85L377.77 299.3L379.05 299.73L380.33 300.16L381.61 300.58L382.89 300.99L384.17 301.39L385.45 301.79L386.73 302.17L388.01 302.54L389.29 302.91L390.57 303.26L391.85 303.61L393.13 303.95L394.41 304.27L395.69 304.59L396.97 304.91L398.25 305.21L399.53 305.5L400.81 305.79L402.09 306.06L403.37 306.33L404.65 306.6L405.93 306.85L407.21 307.1L408.49 307.33L409.77 307.57L411.05 307.79L412.33 308.01L413.61 308.22L414.89 308.42L416.17 308.62L417.45 308.81L418.73 309L420.01 309.18L421.29 309.35L422.57 309.52L423.85 309.68L425.13 309.84L426.41 309.99L427.69 310.14L428.97 310.28L430.25 310.42L431.53 310.55L432.81 310.68L434.09 310.81L435.37 310.93L436.65 311.04L437.93 311.16L439.21 311.27L440.49 311.37L441.77 311.47L443.05 311.57L444.33 311.67L445.61 311.76L446.89 311.85L448.17 311.93L449.45 312.01L450.73 312.09L452.01 312.17L453.29 312.25L454.57 312.32L455.85 312.39L457.13 312.45L457.77 312.49" stroke="#a86a20" stroke-width="1.3" fill="none" stroke-dasharray="3 2"/>
<path d="M312.49 283.5L313.77 282L315.05 280.63L316.33 279.41L317.61 278.28L318.89 277.3L320.17 276.45L321.45 275.72L322.73 275.13L324.01 274.63L325.29 274.28L326.57 274.03L327.85 273.86L329.13 273.84L330.41 273.9L331.69 273.99L332.97 274.18L334.25 274.48L335.53 274.82L336.81 275.24L338.09 275.7L339.37 276.21L340.65 276.78L341.93 277.37L343.21 278.01L344.49 278.67L345.77 279.36L347.05 280.07L348.33 280.79L349.61 281.53L350.89 282.29L352.17 283.04L353.45 283.81L354.73 284.58L356.01 285.35L357.29 286.11L358.57 286.88L359.85 287.63L361.13 288.38L362.41 289.13L363.69 289.86L364.97 290.58L366.25 291.3L367.53 292L368.81 292.68L370.09 293.36L371.37 294.02L372.65 294.67L373.93 295.3L375.21 295.92L376.49 296.52L377.77 297.11L379.05 297.68L380.33 298.24L381.61 298.78L382.89 299.31L384.17 299.82L385.45 300.32L386.73 300.81L388.01 301.28L389.29 301.73L390.57 302.17L391.85 302.6L393.13 303.02L394.41 303.42L395.69 303.81L396.97 304.19L398.25 304.55L399.53 304.91L400.81 305.25L402.09 305.58L403.37 305.9L404.65 306.2L405.93 306.5L407.21 306.79L408.49 307.07L409.77 307.34L411.05 307.59L412.33 307.84L413.61 308.09L414.89 308.32L416.17 308.54L417.45 308.76L418.73 308.97L420.01 309.17L421.29 309.37L422.57 309.55L423.85 309.74L425.13 309.91L426.41 310.08L427.69 310.24L428.97 310.4L430.25 310.55L431.53 310.69L432.81 310.83L434.09 310.97L435.37 311.1L436.65 311.22L437.93 311.34L439.21 311.46L440.49 311.57L441.77 311.68L443.05 311.79L444.33 311.89L445.61 311.98L446.89 312.08L448.17 312.17L449.45 312.25L450.73 312.34L452.01 312.42L453.29 312.49L454.57 312.57L455.85 312.64L457.13 312.71L457.77 312.74" stroke="#158a15" stroke-width="1.3" fill="none" stroke-dasharray="3 2"/>
<path d="M312.49 254.06L313.77 251.31L315.05 248.68L316.33 246.19L317.61 243.87L318.89 241.73L320.17 239.8L321.45 238.1L322.73 236.47L324.01 234.8L325.29 233.2L326.57 231.78L327.85 230.64L329.13 229.88L330.41 229.6L331.69 229.69L332.97 229.95L334.25 230.34L335.53 230.84L336.81 231.43L338.09 232.08L339.37 232.77L340.65 233.47L341.93 234.28L343.21 235.3L344.49 236.48L345.77 237.78L347.05 239.15L348.33 240.55L349.61 241.93L350.89 243.25L352.17 244.54L353.45 245.86L354.73 247.21L356.01 248.57L357.29 249.94L358.57 251.31L359.85 252.68L361.13 254.03L362.41 255.36L363.69 256.66L364.97 257.93L366.25 259.19L367.53 260.46L368.81 261.72L370.09 262.95L371.37 264.12L372.65 265.2L373.93 266.17L375.21 267.05L376.49 267.89L377.77 268.68L379.05 269.43L380.33 270.15L381.61 270.84L382.89 271.5L384.17 272.15L385.45 272.77L386.73 273.38L388.01 273.96L389.29 274.5L390.57 275.01L391.85 275.5L393.13 275.97L394.41 276.44L395.69 276.91L396.97 277.39L398.25 277.9L399.53 278.43L400.81 279L402.09 279.61L403.37 280.25L404.65 280.91L405.93 281.6L407.21 282.32L408.49 283.06L409.77 283.83L411.05 284.62L412.33 285.44L413.61 286.28L414.89 287.16L416.17 288.06L417.45 289.04L418.73 290.13L420.01 291.31L421.29 292.53L422.57 293.77L423.85 294.97L425.13 296.12L426.41 297.17L427.69 298.1L428.97 298.89L430.25 299.61L431.53 300.28L432.81 300.93L434.09 301.6L435.37 302.33L436.65 303.12L437.93 303.95L439.21 304.8L440.49 305.66L441.77 306.51L443.05 307.33L444.33 308.1L445.61 308.8L446.89 309.42L448.17 309.94L449.45 310.4L450.73 310.83L452.01 311.23L453.29 311.59L454.57 311.92L455.85 312.2L457.13 312.43L457.77 312.52" stroke="#a5a5a5" stroke-width="1.3" fill="none" stroke-dasharray="3 2"/>
<path d="M312.49 249.05L313.77 245.92L315.05 242.98L316.33 240.24L317.61 237.65L318.89 235.29L320.17 233.13L321.45 231.16L322.73 229.45L324.01 227.92L325.29 226.65L326.57 225.57L327.85 224.69L329.13 224.1L330.41 223.61L331.69 223.39L332.97 223.43L334.25 223.54L335.53 223.73L336.81 224.23L338.09 224.86L339.37 225.62L340.65 226.53L341.93 227.54L343.21 228.68L344.49 229.92L345.77 231.25L347.05 232.67L348.33 234.15L349.61 235.71L350.89 237.32L352.17 238.98L353.45 240.69L354.73 242.42L356.01 244.18L357.29 245.97L358.57 247.76L359.85 249.57L361.13 251.38L362.41 253.18L363.69 254.98L364.97 256.77L366.25 258.55L367.53 260.3L368.81 262.04L370.09 263.75L371.37 265.44L372.65 267.1L373.93 268.73L375.21 270.33L376.49 271.89L377.77 273.42L379.05 274.91L380.33 276.37L381.61 277.79L382.89 279.18L384.17 280.52L385.45 281.83L386.73 283.1L388.01 284.34L389.29 285.53L390.57 286.69L391.85 287.82L393.13 288.9L394.41 289.95L395.69 290.97L396.97 291.95L398.25 292.9L399.53 293.81L400.81 294.69L402.09 295.54L403.37 296.36L404.65 297.14L405.93 297.9L407.21 298.63L408.49 299.33L409.77 300.01L411.05 300.66L412.33 301.28L413.61 301.88L414.89 302.45L416.17 303L417.45 303.53L418.73 304.04L420.01 304.52L421.29 304.99L422.57 305.44L423.85 305.87L425.13 306.28L426.41 306.67L427.69 307.04L428.97 307.41L430.25 307.75L431.53 308.08L432.81 308.4L434.09 308.7L435.37 308.99L436.65 309.26L437.93 309.53L439.21 309.78L440.49 310.02L441.77 310.25L443.05 310.47L444.33 310.68L445.61 310.88L446.89 311.08L448.17 311.26L449.45 311.44L450.73 311.6L452.01 311.76L453.29 311.92L454.57 312.06L455.85 312.2L457.13 312.33L457.77 312.4" stroke="#111" stroke-width="1.3" fill="none" stroke-dasharray="3 2"/>
<line x1="450.6" y1="196.6" x2="456.9" y2="196.6" stroke="#111" stroke-width="1.3" stroke-dasharray="3 2"/>
<text class="t" transform="translate(460.7,199.9) scale(1,1.2)" text-anchor="start" font-size="8" font-weight="normal" >Untreated</text>
<line x1="450.6" y1="210.9" x2="456.9" y2="210.9" stroke="#a5a5a5" stroke-width="1.3" stroke-dasharray="3 2"/>
<text class="t" transform="translate(460.7,214.2) scale(1,1.2)" text-anchor="start" font-size="8" font-weight="normal" >TRB</text>
<line x1="450.6" y1="225.2" x2="456.9" y2="225.2" stroke="#158a15" stroke-width="1.3" stroke-dasharray="3 2"/>
<text class="t" transform="translate(460.7,228.5) scale(1,1.2)" text-anchor="start" font-size="8" font-weight="normal" >CuSO4</text>
<line x1="450.6" y1="239.5" x2="456.9" y2="239.5" stroke="#8a10c8" stroke-width="1.3" stroke-dasharray="3 2"/>
<text class="t" transform="translate(460.7,242.8) scale(1,1.2)" text-anchor="start" font-size="8" font-weight="normal" >NH3</text>
<line x1="450.6" y1="253.8" x2="456.9" y2="253.8" stroke="#a86a20" stroke-width="1.3" stroke-dasharray="3 2"/>
<text class="t" transform="translate(460.7,257.1) scale(1,1.2)" text-anchor="start" font-size="8" font-weight="normal" >TrueVIEW</text>
<line x1="450.6" y1="268.1" x2="456.9" y2="268.1" stroke="#ff8a10" stroke-width="1.3" stroke-dasharray="3 2"/>
<text class="t" transform="translate(460.7,271.4) scale(1,1.2)" text-anchor="start" font-size="8" font-weight="normal" >SBB</text>
<line x1="450.6" y1="282.4" x2="456.9" y2="282.4" stroke="#f02020" stroke-width="1.3" stroke-dasharray="3 2"/>
<text class="t" transform="translate(460.7,285.7) scale(1,1.2)" text-anchor="start" font-size="8" font-weight="normal" >TrueBlack</text>
<line x1="450.6" y1="296.7" x2="456.9" y2="296.7" stroke="#1515f0" stroke-width="1.3" stroke-dasharray="3 2"/>
<text class="t" transform="translate(460.7,300) scale(1,1.2)" text-anchor="start" font-size="8" font-weight="normal" >MaxBlock</text>
<line x1="42.5" y1="371.75" x2="42.5" y2="509" stroke="#222" stroke-width="1.2" />
<line x1="42.5" y1="509" x2="248" y2="509" stroke="#222" stroke-width="1.2" />
<line x1="39.5" y1="509" x2="42.5" y2="509" stroke="#222" stroke-width="1.2" />
<line x1="39.5" y1="463.25" x2="42.5" y2="463.25" stroke="#222" stroke-width="1.2" />
<line x1="39.5" y1="417.5" x2="42.5" y2="417.5" stroke="#222" stroke-width="1.2" />
<line x1="39.5" y1="371.75" x2="42.5" y2="371.75" stroke="#222" stroke-width="1.2" />
<line x1="41" y1="486.12" x2="42.5" y2="486.12" stroke="#222" stroke-width="1.2" />
<line x1="41" y1="440.38" x2="42.5" y2="440.38" stroke="#222" stroke-width="1.2" />
<line x1="41" y1="394.62" x2="42.5" y2="394.62" stroke="#222" stroke-width="1.2" />
<text class="t" transform="translate(39,512.3) scale(1,1.2)" text-anchor="end" font-size="8" font-weight="normal" >0</text>
<text class="t" transform="translate(39,466.55) scale(1,1.2)" text-anchor="end" font-size="8" font-weight="normal" >500</text>
<text class="t" transform="translate(39,420.8) scale(1,1.2)" text-anchor="end" font-size="8" font-weight="normal" >1000</text>
<text class="t" transform="translate(39,375.05) scale(1,1.2)" text-anchor="end" font-size="8" font-weight="normal" >1500</text>
<text class="t" x="0" y="0" text-anchor="middle" font-size="8" transform="translate(15.8,438.77) rotate(-90) scale(1,1.2)">Max intensity</text>
<line x1="58.75" y1="411.64" x2="58.75" y2="408.9" stroke="#000" stroke-width="1.1" />
<line x1="54.75" y1="408.9" x2="62.75" y2="408.9" stroke="#000" stroke-width="1.2" />
<rect x="51.15" y="411.64" width="15.2" height="97.36" fill="#000000" stroke="#000" stroke-width="1.1"/>
<line x1="58.75" y1="509" x2="58.75" y2="511.5" stroke="#222" stroke-width="1.2" />
<text class="t" x="0" y="0" text-anchor="end" font-size="8" transform="translate(61.55,518.2) rotate(-45) scale(1,1.2)">Untreated</text>
<line x1="83.32" y1="423.72" x2="83.32" y2="418.6" stroke="#000" stroke-width="1.1" />
<line x1="79.32" y1="418.6" x2="87.32" y2="418.6" stroke="#000" stroke-width="1.2" />
<rect x="75.72" y="423.72" width="15.2" height="85.28" fill="#a7a7aa" stroke="#000" stroke-width="1.1"/>
<line x1="83.32" y1="509" x2="83.32" y2="511.5" stroke="#222" stroke-width="1.2" />
<text class="t" x="0" y="0" text-anchor="end" font-size="8" transform="translate(86.12,518.2) rotate(-45) scale(1,1.2)">TRB</text>
<line x1="107.89" y1="477.89" x2="107.89" y2="475.6" stroke="#000" stroke-width="1.1" />
<line x1="103.89" y1="475.6" x2="111.89" y2="475.6" stroke="#000" stroke-width="1.2" />
<rect x="100.29" y="477.89" width="15.2" height="31.11" fill="#006400" stroke="#000" stroke-width="1.1"/>
<line x1="107.89" y1="509" x2="107.89" y2="511.5" stroke="#222" stroke-width="1.2" />
<text class="t" transform="translate(107.89,472.5) scale(1,1.2)" text-anchor="middle" font-size="8" font-weight="normal" >a</text>
<text class="t" x="0" y="0" text-anchor="end" font-size="8" transform="translate(110.69,518.2) rotate(-45) scale(1,1.2)">CuSO4</text>
<line x1="132.46" y1="480.36" x2="132.46" y2="474.69" stroke="#000" stroke-width="1.1" />
<line x1="128.46" y1="474.69" x2="136.46" y2="474.69" stroke="#000" stroke-width="1.2" />
<rect x="124.86" y="480.36" width="15.2" height="28.64" fill="#a8650f" stroke="#000" stroke-width="1.1"/>
<line x1="132.46" y1="509" x2="132.46" y2="511.5" stroke="#222" stroke-width="1.2" />
<text class="t" transform="translate(132.46,471.59) scale(1,1.2)" text-anchor="middle" font-size="8" font-weight="normal" >a</text>
<text class="t" x="0" y="0" text-anchor="end" font-size="8" transform="translate(135.26,518.2) rotate(-45) scale(1,1.2)">TrueVIEW</text>
<line x1="157.03" y1="480.18" x2="157.03" y2="476.06" stroke="#000" stroke-width="1.1" />
<line x1="153.03" y1="476.06" x2="161.03" y2="476.06" stroke="#000" stroke-width="1.2" />
<rect x="149.43" y="480.18" width="15.2" height="28.82" fill="#8a00a0" stroke="#000" stroke-width="1.1"/>
<line x1="157.03" y1="509" x2="157.03" y2="511.5" stroke="#222" stroke-width="1.2" />
<text class="t" transform="translate(157.03,472.96) scale(1,1.2)" text-anchor="middle" font-size="8" font-weight="normal" >a</text>
<text class="t" x="0" y="0" text-anchor="end" font-size="8" transform="translate(159.83,518.2) rotate(-45) scale(1,1.2)">NH3</text>
<line x1="181.6" y1="497.56" x2="181.6" y2="496.83" stroke="#000" stroke-width="1.1" />
<line x1="177.6" y1="496.83" x2="185.6" y2="496.83" stroke="#000" stroke-width="1.2" />
<rect x="174" y="497.56" width="15.2" height="11.44" fill="#ff8a00" stroke="#000" stroke-width="1.1"/>
<line x1="181.6" y1="509" x2="181.6" y2="511.5" stroke="#222" stroke-width="1.2" />
<text class="t" transform="translate(181.6,493.73) scale(1,1.2)" text-anchor="middle" font-size="8" font-weight="normal" >b</text>
<text class="t" x="0" y="0" text-anchor="end" font-size="8" transform="translate(184.4,518.2) rotate(-45) scale(1,1.2)">SBB</text>
<line x1="206.17" y1="502.14" x2="206.17" y2="501.41" stroke="#000" stroke-width="1.1" />
<line x1="202.17" y1="501.41" x2="210.17" y2="501.41" stroke="#000" stroke-width="1.2" />
<rect x="198.57" y="502.14" width="15.2" height="6.86" fill="#ff0000" stroke="#000" stroke-width="1.1"/>
<line x1="206.17" y1="509" x2="206.17" y2="511.5" stroke="#222" stroke-width="1.2" />
<text class="t" transform="translate(206.17,498.31) scale(1,1.2)" text-anchor="middle" font-size="8" font-weight="normal" >bc</text>
<text class="t" x="0" y="0" text-anchor="end" font-size="8" transform="translate(208.97,518.2) rotate(-45) scale(1,1.2)">TrueBlack</text>
<line x1="230.74" y1="504.61" x2="230.74" y2="504.06" stroke="#000" stroke-width="1.1" />
<line x1="226.74" y1="504.06" x2="234.74" y2="504.06" stroke="#000" stroke-width="1.2" />
<rect x="223.14" y="504.61" width="15.2" height="4.39" fill="#0000ff" stroke="#000" stroke-width="1.1"/>
<line x1="230.74" y1="509" x2="230.74" y2="511.5" stroke="#222" stroke-width="1.2" />
<text class="t" transform="translate(230.74,500.96) scale(1,1.2)" text-anchor="middle" font-size="8" font-weight="normal" >c</text>
<text class="t" x="0" y="0" text-anchor="end" font-size="8" transform="translate(233.54,518.2) rotate(-45) scale(1,1.2)">MaxBlock</text>
<text transform="translate(4.5,377.6) scale(1,1.0)" text-anchor="start" font-size="19" font-weight="bold" fill="#000">e</text>
<line x1="302.25" y1="371.75" x2="302.25" y2="509.5" stroke="#222" stroke-width="1.2" />
<line x1="302.25" y1="509.5" x2="507.5" y2="509.5" stroke="#222" stroke-width="1.2" />
<line x1="299.25" y1="509.5" x2="302.25" y2="509.5" stroke="#222" stroke-width="1.2" />
<line x1="299.25" y1="481.95" x2="302.25" y2="481.95" stroke="#222" stroke-width="1.2" />
<line x1="299.25" y1="454.4" x2="302.25" y2="454.4" stroke="#222" stroke-width="1.2" />
<line x1="299.25" y1="426.85" x2="302.25" y2="426.85" stroke="#222" stroke-width="1.2" />
<line x1="299.25" y1="399.3" x2="302.25" y2="399.3" stroke="#222" stroke-width="1.2" />
<line x1="299.25" y1="371.75" x2="302.25" y2="371.75" stroke="#222" stroke-width="1.2" />
<line x1="300.75" y1="495.73" x2="302.25" y2="495.73" stroke="#222" stroke-width="1.2" />
<line x1="300.75" y1="468.18" x2="302.25" y2="468.18" stroke="#222" stroke-width="1.2" />
<line x1="300.75" y1="440.62" x2="302.25" y2="440.62" stroke="#222" stroke-width="1.2" />
<line x1="300.75" y1="413.07" x2="302.25" y2="413.07" stroke="#222" stroke-width="1.2" />
<line x1="300.75" y1="385.52" x2="302.25" y2="385.52" stroke="#222" stroke-width="1.2" />
<text class="t" transform="translate(298.5,512.8) scale(1,1.2)" text-anchor="end" font-size="8" font-weight="normal" >0</text>
<text class="t" transform="translate(298.5,485.25) scale(1,1.2)" text-anchor="end" font-size="8" font-weight="normal" >100</text>
<text class="t" transform="translate(298.5,457.7) scale(1,1.2)" text-anchor="end" font-size="8" font-weight="normal" >200</text>
<text class="t" transform="translate(298.5,430.15) scale(1,1.2)" text-anchor="end" font-size="8" font-weight="normal" >300</text>
<text class="t" transform="translate(298.5,402.6) scale(1,1.2)" text-anchor="end" font-size="8" font-weight="normal" >400</text>
<text class="t" transform="translate(298.5,375.05) scale(1,1.2)" text-anchor="end" font-size="8" font-weight="normal" >500</text>
<text class="t" x="0" y="0" text-anchor="middle" font-size="8" transform="translate(281.5,439.02) rotate(-90) scale(1,1.2)">Max intensity</text>
<line x1="319.1" y1="405.09" x2="319.1" y2="392.14" stroke="#000" stroke-width="1.1" />
<line x1="315.1" y1="392.14" x2="323.1" y2="392.14" stroke="#000" stroke-width="1.2" />
<rect x="311.5" y="405.09" width="15.2" height="104.41" fill="#000000" stroke="#000" stroke-width="1.1"/>
<line x1="319.1" y1="509.5" x2="319.1" y2="512" stroke="#222" stroke-width="1.2" />
<text class="t" transform="translate(319.1,389.04) scale(1,1.2)" text-anchor="middle" font-size="8" font-weight="normal" >a</text>
<text class="t" x="0" y="0" text-anchor="end" font-size="8" transform="translate(321.9,518.7) rotate(-45) scale(1,1.2)">Untreated</text>
<line x1="343.65" y1="412.52" x2="343.65" y2="409.22" stroke="#000" stroke-width="1.1" />
<line x1="339.65" y1="409.22" x2="347.65" y2="409.22" stroke="#000" stroke-width="1.2" />
<rect x="336.05" y="412.52" width="15.2" height="96.98" fill="#a7a7aa" stroke="#000" stroke-width="1.1"/>
<line x1="343.65" y1="509.5" x2="343.65" y2="512" stroke="#222" stroke-width="1.2" />
<text class="t" transform="translate(343.65,406.12) scale(1,1.2)" text-anchor="middle" font-size="8" font-weight="normal" >a</text>
<text class="t" x="0" y="0" text-anchor="end" font-size="8" transform="translate(346.45,518.7) rotate(-45) scale(1,1.2)">TRB</text>
<line x1="368.2" y1="459.36" x2="368.2" y2="456.6" stroke="#000" stroke-width="1.1" />
<line x1="364.2" y1="456.6" x2="372.2" y2="456.6" stroke="#000" stroke-width="1.2" />
<rect x="360.6" y="459.36" width="15.2" height="50.14" fill="#006400" stroke="#000" stroke-width="1.1"/>
<line x1="368.2" y1="509.5" x2="368.2" y2="512" stroke="#222" stroke-width="1.2" />
<text class="t" transform="translate(368.2,453.5) scale(1,1.2)" text-anchor="middle" font-size="8" font-weight="normal" >b</text>
<text class="t" x="0" y="0" text-anchor="end" font-size="8" transform="translate(371,518.7) rotate(-45) scale(1,1.2)">CuSO4</text>
<line x1="392.75" y1="469.55" x2="392.75" y2="464.59" stroke="#000" stroke-width="1.1" />
<line x1="388.75" y1="464.59" x2="396.75" y2="464.59" stroke="#000" stroke-width="1.2" />
<rect x="385.15" y="469.55" width="15.2" height="39.95" fill="#a8650f" stroke="#000" stroke-width="1.1"/>
<line x1="392.75" y1="509.5" x2="392.75" y2="512" stroke="#222" stroke-width="1.2" />
<text class="t" transform="translate(392.75,461.49) scale(1,1.2)" text-anchor="middle" font-size="8" font-weight="normal" >bc</text>
<text class="t" x="0" y="0" text-anchor="end" font-size="8" transform="translate(395.55,518.7) rotate(-45) scale(1,1.2)">TrueVIEW</text>
<line x1="417.3" y1="472.31" x2="417.3" y2="468.18" stroke="#000" stroke-width="1.1" />
<line x1="413.3" y1="468.18" x2="421.3" y2="468.18" stroke="#000" stroke-width="1.2" />
<rect x="409.7" y="472.31" width="15.2" height="37.19" fill="#8a00a0" stroke="#000" stroke-width="1.1"/>
<line x1="417.3" y1="509.5" x2="417.3" y2="512" stroke="#222" stroke-width="1.2" />
<text class="t" transform="translate(417.3,465.07) scale(1,1.2)" text-anchor="middle" font-size="8" font-weight="normal" >c</text>
<text class="t" x="0" y="0" text-anchor="end" font-size="8" transform="translate(420.1,518.7) rotate(-45) scale(1,1.2)">NH3</text>
<line x1="441.85" y1="491.32" x2="441.85" y2="489.94" stroke="#000" stroke-width="1.1" />
<line x1="437.85" y1="489.94" x2="445.85" y2="489.94" stroke="#000" stroke-width="1.2" />
<rect x="434.25" y="491.32" width="15.2" height="18.18" fill="#ff8a00" stroke="#000" stroke-width="1.1"/>
<line x1="441.85" y1="509.5" x2="441.85" y2="512" stroke="#222" stroke-width="1.2" />
<text class="t" transform="translate(441.85,486.84) scale(1,1.2)" text-anchor="middle" font-size="8" font-weight="normal" >d</text>
<text class="t" x="0" y="0" text-anchor="end" font-size="8" transform="translate(444.65,518.7) rotate(-45) scale(1,1.2)">SBB</text>
<line x1="466.4" y1="498.76" x2="466.4" y2="498.2" stroke="#000" stroke-width="1.1" />
<line x1="462.4" y1="498.2" x2="470.4" y2="498.2" stroke="#000" stroke-width="1.2" />
<rect x="458.8" y="498.76" width="15.2" height="10.74" fill="#ff0000" stroke="#000" stroke-width="1.1"/>
<line x1="466.4" y1="509.5" x2="466.4" y2="512" stroke="#222" stroke-width="1.2" />
<text class="t" transform="translate(466.4,495.1) scale(1,1.2)" text-anchor="middle" font-size="8" font-weight="normal" >d</text>
<text class="t" x="0" y="0" text-anchor="end" font-size="8" transform="translate(469.2,518.7) rotate(-45) scale(1,1.2)">TrueBlack</text>
<line x1="490.95" y1="499.31" x2="490.95" y2="498.76" stroke="#000" stroke-width="1.1" />
<line x1="486.95" y1="498.76" x2="494.95" y2="498.76" stroke="#000" stroke-width="1.2" />
<rect x="483.35" y="499.31" width="15.2" height="10.19" fill="#0000ff" stroke="#000" stroke-width="1.1"/>
<line x1="490.95" y1="509.5" x2="490.95" y2="512" stroke="#222" stroke-width="1.2" />
<text class="t" transform="translate(490.95,495.66) scale(1,1.2)" text-anchor="middle" font-size="8" font-weight="normal" >d</text>
<text class="t" x="0" y="0" text-anchor="end" font-size="8" transform="translate(493.75,518.7) rotate(-45) scale(1,1.2)">MaxBlock</text>
<text transform="translate(269.5,377.9) scale(1,1.0)" text-anchor="start" font-size="19" font-weight="bold" fill="#000">f</text>
</svg></body></html>
